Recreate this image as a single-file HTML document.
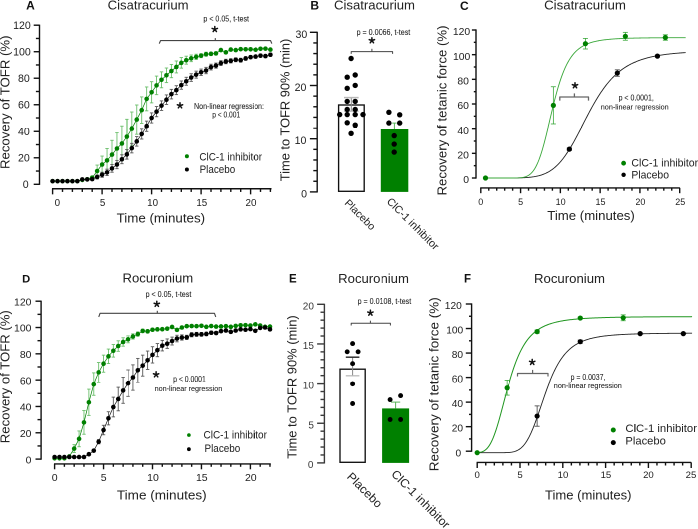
<!DOCTYPE html>
<html><head><meta charset="utf-8"><style>
html,body{margin:0;padding:0;background:#fff;}
#wrap{width:698px;height:529px;overflow:hidden;position:relative;background:#fff;}
svg{display:block;position:absolute;left:0;top:0;font-family:"Liberation Sans", sans-serif;transform:scale(0.5);transform-origin:0 0;will-change:transform;}
</style></head><body>
<div id="wrap">
<svg width="1396" height="1058" viewBox="0 0 698 529">
<rect width="698" height="529" fill="#fff"/>
<text x="26.1" y="9.6" font-size="12" text-anchor="start" fill="#111" font-weight="bold">A</text>
<text x="107.6" y="9.7" font-size="13" text-anchor="start" fill="#222" textLength="81" lengthAdjust="spacingAndGlyphs">Cisatracurium</text>
<line x1="39.5" y1="184.9" x2="39.5" y2="24.6" stroke="#111" stroke-width="1.4"/>
<line x1="33.7" y1="184.3" x2="39.5" y2="184.3" stroke="#111" stroke-width="1.4"/>
<text x="28.6" y="188.15" font-size="10.6" text-anchor="end" fill="#222">0</text>
<line x1="35.9" y1="171.04" x2="39.5" y2="171.04" stroke="#111" stroke-width="1.4"/>
<line x1="33.7" y1="157.78" x2="39.5" y2="157.78" stroke="#111" stroke-width="1.4"/>
<text x="29.8" y="161.63" font-size="10.6" text-anchor="end" fill="#222">20</text>
<line x1="35.9" y1="144.53" x2="39.5" y2="144.53" stroke="#111" stroke-width="1.4"/>
<line x1="33.7" y1="131.27" x2="39.5" y2="131.27" stroke="#111" stroke-width="1.4"/>
<text x="29.8" y="135.12" font-size="10.6" text-anchor="end" fill="#222">40</text>
<line x1="35.9" y1="118.01" x2="39.5" y2="118.01" stroke="#111" stroke-width="1.4"/>
<line x1="33.7" y1="104.75" x2="39.5" y2="104.75" stroke="#111" stroke-width="1.4"/>
<text x="29.8" y="108.6" font-size="10.6" text-anchor="end" fill="#222">60</text>
<line x1="35.9" y1="91.49" x2="39.5" y2="91.49" stroke="#111" stroke-width="1.4"/>
<line x1="33.7" y1="78.23" x2="39.5" y2="78.23" stroke="#111" stroke-width="1.4"/>
<text x="29.8" y="82.08" font-size="10.6" text-anchor="end" fill="#222">80</text>
<line x1="35.9" y1="64.97" x2="39.5" y2="64.97" stroke="#111" stroke-width="1.4"/>
<line x1="33.7" y1="51.72" x2="39.5" y2="51.72" stroke="#111" stroke-width="1.4"/>
<text x="30.8" y="55.57" font-size="10.6" text-anchor="end" fill="#222">100</text>
<line x1="35.9" y1="38.46" x2="39.5" y2="38.46" stroke="#111" stroke-width="1.4"/>
<line x1="33.7" y1="25.2" x2="39.5" y2="25.2" stroke="#111" stroke-width="1.4"/>
<text x="30.8" y="29.05" font-size="10.6" text-anchor="end" fill="#222">120</text>
<text x="9.5" y="169" font-size="13" text-anchor="start" fill="#222" textLength="133.5" lengthAdjust="spacingAndGlyphs" transform="rotate(-90 9.5 169)">Recovery of TOFR (%)</text>
<line x1="52" y1="188.75" x2="271.5" y2="188.75" stroke="#111" stroke-width="1.4"/>
<line x1="52.6" y1="188.75" x2="52.6" y2="194.35" stroke="#111" stroke-width="1.4"/>
<line x1="62.5" y1="188.75" x2="62.5" y2="191.95" stroke="#111" stroke-width="1.4"/>
<line x1="72.4" y1="188.75" x2="72.4" y2="191.95" stroke="#111" stroke-width="1.4"/>
<line x1="82.3" y1="188.75" x2="82.3" y2="191.95" stroke="#111" stroke-width="1.4"/>
<line x1="92.2" y1="188.75" x2="92.2" y2="191.95" stroke="#111" stroke-width="1.4"/>
<line x1="102.1" y1="188.75" x2="102.1" y2="194.35" stroke="#111" stroke-width="1.4"/>
<line x1="112" y1="188.75" x2="112" y2="191.95" stroke="#111" stroke-width="1.4"/>
<line x1="121.9" y1="188.75" x2="121.9" y2="191.95" stroke="#111" stroke-width="1.4"/>
<line x1="131.8" y1="188.75" x2="131.8" y2="191.95" stroke="#111" stroke-width="1.4"/>
<line x1="141.7" y1="188.75" x2="141.7" y2="191.95" stroke="#111" stroke-width="1.4"/>
<line x1="151.6" y1="188.75" x2="151.6" y2="194.35" stroke="#111" stroke-width="1.4"/>
<line x1="161.5" y1="188.75" x2="161.5" y2="191.95" stroke="#111" stroke-width="1.4"/>
<line x1="171.4" y1="188.75" x2="171.4" y2="191.95" stroke="#111" stroke-width="1.4"/>
<line x1="181.3" y1="188.75" x2="181.3" y2="191.95" stroke="#111" stroke-width="1.4"/>
<line x1="191.2" y1="188.75" x2="191.2" y2="191.95" stroke="#111" stroke-width="1.4"/>
<line x1="201.1" y1="188.75" x2="201.1" y2="194.35" stroke="#111" stroke-width="1.4"/>
<line x1="211" y1="188.75" x2="211" y2="191.95" stroke="#111" stroke-width="1.4"/>
<line x1="220.9" y1="188.75" x2="220.9" y2="191.95" stroke="#111" stroke-width="1.4"/>
<line x1="230.8" y1="188.75" x2="230.8" y2="191.95" stroke="#111" stroke-width="1.4"/>
<line x1="240.7" y1="188.75" x2="240.7" y2="191.95" stroke="#111" stroke-width="1.4"/>
<line x1="250.6" y1="188.75" x2="250.6" y2="194.35" stroke="#111" stroke-width="1.4"/>
<line x1="260.5" y1="188.75" x2="260.5" y2="191.95" stroke="#111" stroke-width="1.4"/>
<line x1="270.4" y1="188.75" x2="270.4" y2="191.95" stroke="#111" stroke-width="1.4"/>
<text x="57.4" y="206.1" font-size="9.8" text-anchor="middle" fill="#222">0</text>
<text x="102.6" y="206.1" font-size="9.8" text-anchor="middle" fill="#222">5</text>
<text x="152.6" y="206.1" font-size="9.8" text-anchor="middle" fill="#222">10</text>
<text x="201.8" y="206.1" font-size="9.8" text-anchor="middle" fill="#222">15</text>
<text x="251" y="206.1" font-size="9.8" text-anchor="middle" fill="#222">20</text>
<text x="116.6" y="222.7" font-size="13" text-anchor="start" fill="#222" textLength="88.5" lengthAdjust="spacingAndGlyphs">Time (minutes)</text>
<line x1="87.25" y1="178.2" x2="87.25" y2="180.32" stroke="#6cbf6c" stroke-width="0.9"/>
<line x1="85.55" y1="178.2" x2="88.95" y2="178.2" stroke="#6cbf6c" stroke-width="0.9"/>
<line x1="85.55" y1="180.32" x2="88.95" y2="180.32" stroke="#6cbf6c" stroke-width="0.9"/>
<line x1="92.2" y1="176.08" x2="92.2" y2="179.26" stroke="#6cbf6c" stroke-width="0.9"/>
<line x1="90.5" y1="176.08" x2="93.9" y2="176.08" stroke="#6cbf6c" stroke-width="0.9"/>
<line x1="90.5" y1="179.26" x2="93.9" y2="179.26" stroke="#6cbf6c" stroke-width="0.9"/>
<line x1="97.15" y1="165.07" x2="97.15" y2="177.01" stroke="#6cbf6c" stroke-width="0.9"/>
<line x1="95.45" y1="165.07" x2="98.85" y2="165.07" stroke="#6cbf6c" stroke-width="0.9"/>
<line x1="95.45" y1="177.01" x2="98.85" y2="177.01" stroke="#6cbf6c" stroke-width="0.9"/>
<line x1="102.1" y1="156.06" x2="102.1" y2="173.03" stroke="#6cbf6c" stroke-width="0.9"/>
<line x1="100.4" y1="156.06" x2="103.8" y2="156.06" stroke="#6cbf6c" stroke-width="0.9"/>
<line x1="100.4" y1="173.03" x2="103.8" y2="173.03" stroke="#6cbf6c" stroke-width="0.9"/>
<line x1="107.05" y1="148.5" x2="107.05" y2="172.37" stroke="#6cbf6c" stroke-width="0.9"/>
<line x1="105.35" y1="148.5" x2="108.75" y2="148.5" stroke="#6cbf6c" stroke-width="0.9"/>
<line x1="105.35" y1="172.37" x2="108.75" y2="172.37" stroke="#6cbf6c" stroke-width="0.9"/>
<line x1="112" y1="140.28" x2="112" y2="168.92" stroke="#6cbf6c" stroke-width="0.9"/>
<line x1="110.3" y1="140.28" x2="113.7" y2="140.28" stroke="#6cbf6c" stroke-width="0.9"/>
<line x1="110.3" y1="168.92" x2="113.7" y2="168.92" stroke="#6cbf6c" stroke-width="0.9"/>
<line x1="116.95" y1="132.59" x2="116.95" y2="164.41" stroke="#6cbf6c" stroke-width="0.9"/>
<line x1="115.25" y1="132.59" x2="118.65" y2="132.59" stroke="#6cbf6c" stroke-width="0.9"/>
<line x1="115.25" y1="164.41" x2="118.65" y2="164.41" stroke="#6cbf6c" stroke-width="0.9"/>
<line x1="121.9" y1="126.22" x2="121.9" y2="160.7" stroke="#6cbf6c" stroke-width="0.9"/>
<line x1="120.2" y1="126.22" x2="123.6" y2="126.22" stroke="#6cbf6c" stroke-width="0.9"/>
<line x1="120.2" y1="160.7" x2="123.6" y2="160.7" stroke="#6cbf6c" stroke-width="0.9"/>
<line x1="126.85" y1="119.33" x2="126.85" y2="153.8" stroke="#6cbf6c" stroke-width="0.9"/>
<line x1="125.15" y1="119.33" x2="128.55" y2="119.33" stroke="#6cbf6c" stroke-width="0.9"/>
<line x1="125.15" y1="153.8" x2="128.55" y2="153.8" stroke="#6cbf6c" stroke-width="0.9"/>
<line x1="131.8" y1="112.03" x2="131.8" y2="145.18" stroke="#6cbf6c" stroke-width="0.9"/>
<line x1="130.1" y1="112.03" x2="133.5" y2="112.03" stroke="#6cbf6c" stroke-width="0.9"/>
<line x1="130.1" y1="145.18" x2="133.5" y2="145.18" stroke="#6cbf6c" stroke-width="0.9"/>
<line x1="136.75" y1="105.01" x2="136.75" y2="134.18" stroke="#6cbf6c" stroke-width="0.9"/>
<line x1="135.05" y1="105.01" x2="138.45" y2="105.01" stroke="#6cbf6c" stroke-width="0.9"/>
<line x1="135.05" y1="134.18" x2="138.45" y2="134.18" stroke="#6cbf6c" stroke-width="0.9"/>
<line x1="141.7" y1="96.92" x2="141.7" y2="123.44" stroke="#6cbf6c" stroke-width="0.9"/>
<line x1="140" y1="96.92" x2="143.4" y2="96.92" stroke="#6cbf6c" stroke-width="0.9"/>
<line x1="140" y1="123.44" x2="143.4" y2="123.44" stroke="#6cbf6c" stroke-width="0.9"/>
<line x1="146.65" y1="86.97" x2="146.65" y2="110.84" stroke="#6cbf6c" stroke-width="0.9"/>
<line x1="144.95" y1="86.97" x2="148.35" y2="86.97" stroke="#6cbf6c" stroke-width="0.9"/>
<line x1="144.95" y1="110.84" x2="148.35" y2="110.84" stroke="#6cbf6c" stroke-width="0.9"/>
<line x1="151.6" y1="81.67" x2="151.6" y2="102.88" stroke="#6cbf6c" stroke-width="0.9"/>
<line x1="149.9" y1="81.67" x2="153.3" y2="81.67" stroke="#6cbf6c" stroke-width="0.9"/>
<line x1="149.9" y1="102.88" x2="153.3" y2="102.88" stroke="#6cbf6c" stroke-width="0.9"/>
<line x1="156.55" y1="76.1" x2="156.55" y2="94.66" stroke="#6cbf6c" stroke-width="0.9"/>
<line x1="154.85" y1="76.1" x2="158.25" y2="76.1" stroke="#6cbf6c" stroke-width="0.9"/>
<line x1="154.85" y1="94.66" x2="158.25" y2="94.66" stroke="#6cbf6c" stroke-width="0.9"/>
<line x1="161.5" y1="71.86" x2="161.5" y2="87.77" stroke="#6cbf6c" stroke-width="0.9"/>
<line x1="159.8" y1="71.86" x2="163.2" y2="71.86" stroke="#6cbf6c" stroke-width="0.9"/>
<line x1="159.8" y1="87.77" x2="163.2" y2="87.77" stroke="#6cbf6c" stroke-width="0.9"/>
<line x1="166.45" y1="68.01" x2="166.45" y2="82.6" stroke="#6cbf6c" stroke-width="0.9"/>
<line x1="164.75" y1="68.01" x2="168.15" y2="68.01" stroke="#6cbf6c" stroke-width="0.9"/>
<line x1="164.75" y1="82.6" x2="168.15" y2="82.6" stroke="#6cbf6c" stroke-width="0.9"/>
<line x1="171.4" y1="64.43" x2="171.4" y2="77.69" stroke="#6cbf6c" stroke-width="0.9"/>
<line x1="169.7" y1="64.43" x2="173.1" y2="64.43" stroke="#6cbf6c" stroke-width="0.9"/>
<line x1="169.7" y1="77.69" x2="173.1" y2="77.69" stroke="#6cbf6c" stroke-width="0.9"/>
<line x1="176.35" y1="60.98" x2="176.35" y2="72.92" stroke="#6cbf6c" stroke-width="0.9"/>
<line x1="174.65" y1="60.98" x2="178.05" y2="60.98" stroke="#6cbf6c" stroke-width="0.9"/>
<line x1="174.65" y1="72.92" x2="178.05" y2="72.92" stroke="#6cbf6c" stroke-width="0.9"/>
<line x1="181.3" y1="57.53" x2="181.3" y2="68.14" stroke="#6cbf6c" stroke-width="0.9"/>
<line x1="179.6" y1="57.53" x2="183" y2="57.53" stroke="#6cbf6c" stroke-width="0.9"/>
<line x1="179.6" y1="68.14" x2="183" y2="68.14" stroke="#6cbf6c" stroke-width="0.9"/>
<line x1="186.25" y1="56.21" x2="186.25" y2="64.16" stroke="#6cbf6c" stroke-width="0.9"/>
<line x1="184.55" y1="56.21" x2="187.95" y2="56.21" stroke="#6cbf6c" stroke-width="0.9"/>
<line x1="184.55" y1="64.16" x2="187.95" y2="64.16" stroke="#6cbf6c" stroke-width="0.9"/>
<line x1="191.2" y1="55.02" x2="191.2" y2="61.65" stroke="#6cbf6c" stroke-width="0.9"/>
<line x1="189.5" y1="55.02" x2="192.9" y2="55.02" stroke="#6cbf6c" stroke-width="0.9"/>
<line x1="189.5" y1="61.65" x2="192.9" y2="61.65" stroke="#6cbf6c" stroke-width="0.9"/>
<line x1="196.15" y1="54.22" x2="196.15" y2="59.52" stroke="#6cbf6c" stroke-width="0.9"/>
<line x1="194.45" y1="54.22" x2="197.85" y2="54.22" stroke="#6cbf6c" stroke-width="0.9"/>
<line x1="194.45" y1="59.52" x2="197.85" y2="59.52" stroke="#6cbf6c" stroke-width="0.9"/>
<line x1="201.1" y1="53.69" x2="201.1" y2="57.67" stroke="#6cbf6c" stroke-width="0.9"/>
<line x1="199.4" y1="53.69" x2="202.8" y2="53.69" stroke="#6cbf6c" stroke-width="0.9"/>
<line x1="199.4" y1="57.67" x2="202.8" y2="57.67" stroke="#6cbf6c" stroke-width="0.9"/>
<line x1="206.05" y1="52.23" x2="206.05" y2="56.21" stroke="#6cbf6c" stroke-width="0.9"/>
<line x1="204.35" y1="52.23" x2="207.75" y2="52.23" stroke="#6cbf6c" stroke-width="0.9"/>
<line x1="204.35" y1="56.21" x2="207.75" y2="56.21" stroke="#6cbf6c" stroke-width="0.9"/>
<line x1="211" y1="52.23" x2="211" y2="55.41" stroke="#6cbf6c" stroke-width="0.9"/>
<line x1="209.3" y1="52.23" x2="212.7" y2="52.23" stroke="#6cbf6c" stroke-width="0.9"/>
<line x1="209.3" y1="55.41" x2="212.7" y2="55.41" stroke="#6cbf6c" stroke-width="0.9"/>
<line x1="215.95" y1="51.83" x2="215.95" y2="55.02" stroke="#6cbf6c" stroke-width="0.9"/>
<line x1="214.25" y1="51.83" x2="217.65" y2="51.83" stroke="#6cbf6c" stroke-width="0.9"/>
<line x1="214.25" y1="55.02" x2="217.65" y2="55.02" stroke="#6cbf6c" stroke-width="0.9"/>
<line x1="220.9" y1="48.78" x2="220.9" y2="51.43" stroke="#6cbf6c" stroke-width="0.9"/>
<line x1="219.2" y1="48.78" x2="222.6" y2="48.78" stroke="#6cbf6c" stroke-width="0.9"/>
<line x1="219.2" y1="51.43" x2="222.6" y2="51.43" stroke="#6cbf6c" stroke-width="0.9"/>
<line x1="225.85" y1="51.04" x2="225.85" y2="53.69" stroke="#6cbf6c" stroke-width="0.9"/>
<line x1="224.15" y1="51.04" x2="227.55" y2="51.04" stroke="#6cbf6c" stroke-width="0.9"/>
<line x1="224.15" y1="53.69" x2="227.55" y2="53.69" stroke="#6cbf6c" stroke-width="0.9"/>
<line x1="230.8" y1="48.25" x2="230.8" y2="50.9" stroke="#6cbf6c" stroke-width="0.9"/>
<line x1="229.1" y1="48.25" x2="232.5" y2="48.25" stroke="#6cbf6c" stroke-width="0.9"/>
<line x1="229.1" y1="50.9" x2="232.5" y2="50.9" stroke="#6cbf6c" stroke-width="0.9"/>
<line x1="235.75" y1="48.78" x2="235.75" y2="51.43" stroke="#6cbf6c" stroke-width="0.9"/>
<line x1="234.05" y1="48.78" x2="237.45" y2="48.78" stroke="#6cbf6c" stroke-width="0.9"/>
<line x1="234.05" y1="51.43" x2="237.45" y2="51.43" stroke="#6cbf6c" stroke-width="0.9"/>
<line x1="240.7" y1="47.85" x2="240.7" y2="50.51" stroke="#6cbf6c" stroke-width="0.9"/>
<line x1="239" y1="47.85" x2="242.4" y2="47.85" stroke="#6cbf6c" stroke-width="0.9"/>
<line x1="239" y1="50.51" x2="242.4" y2="50.51" stroke="#6cbf6c" stroke-width="0.9"/>
<line x1="245.65" y1="48.25" x2="245.65" y2="50.37" stroke="#6cbf6c" stroke-width="0.9"/>
<line x1="243.95" y1="48.25" x2="247.35" y2="48.25" stroke="#6cbf6c" stroke-width="0.9"/>
<line x1="243.95" y1="50.37" x2="247.35" y2="50.37" stroke="#6cbf6c" stroke-width="0.9"/>
<line x1="250.6" y1="48.25" x2="250.6" y2="50.37" stroke="#6cbf6c" stroke-width="0.9"/>
<line x1="248.9" y1="48.25" x2="252.3" y2="48.25" stroke="#6cbf6c" stroke-width="0.9"/>
<line x1="248.9" y1="50.37" x2="252.3" y2="50.37" stroke="#6cbf6c" stroke-width="0.9"/>
<line x1="255.55" y1="48.65" x2="255.55" y2="50.77" stroke="#6cbf6c" stroke-width="0.9"/>
<line x1="253.85" y1="48.65" x2="257.25" y2="48.65" stroke="#6cbf6c" stroke-width="0.9"/>
<line x1="253.85" y1="50.77" x2="257.25" y2="50.77" stroke="#6cbf6c" stroke-width="0.9"/>
<line x1="260.5" y1="47.72" x2="260.5" y2="49.84" stroke="#6cbf6c" stroke-width="0.9"/>
<line x1="258.8" y1="47.72" x2="262.2" y2="47.72" stroke="#6cbf6c" stroke-width="0.9"/>
<line x1="258.8" y1="49.84" x2="262.2" y2="49.84" stroke="#6cbf6c" stroke-width="0.9"/>
<line x1="265.45" y1="47.59" x2="265.45" y2="49.71" stroke="#6cbf6c" stroke-width="0.9"/>
<line x1="263.75" y1="47.59" x2="267.15" y2="47.59" stroke="#6cbf6c" stroke-width="0.9"/>
<line x1="263.75" y1="49.71" x2="267.15" y2="49.71" stroke="#6cbf6c" stroke-width="0.9"/>
<line x1="270.4" y1="48.52" x2="270.4" y2="50.64" stroke="#6cbf6c" stroke-width="0.9"/>
<line x1="268.7" y1="48.52" x2="272.1" y2="48.52" stroke="#6cbf6c" stroke-width="0.9"/>
<line x1="268.7" y1="50.64" x2="272.1" y2="50.64" stroke="#6cbf6c" stroke-width="0.9"/>
<line x1="92.2" y1="177.86" x2="92.2" y2="180.4" stroke="#595959" stroke-width="0.9"/>
<line x1="90.5" y1="177.86" x2="93.9" y2="177.86" stroke="#595959" stroke-width="0.9"/>
<line x1="90.5" y1="180.4" x2="93.9" y2="180.4" stroke="#595959" stroke-width="0.9"/>
<line x1="97.15" y1="175.1" x2="97.15" y2="178.92" stroke="#595959" stroke-width="0.9"/>
<line x1="95.45" y1="175.1" x2="98.85" y2="175.1" stroke="#595959" stroke-width="0.9"/>
<line x1="95.45" y1="178.92" x2="98.85" y2="178.92" stroke="#595959" stroke-width="0.9"/>
<line x1="102.1" y1="172.21" x2="102.1" y2="177.3" stroke="#595959" stroke-width="0.9"/>
<line x1="100.4" y1="172.21" x2="103.8" y2="172.21" stroke="#595959" stroke-width="0.9"/>
<line x1="100.4" y1="177.3" x2="103.8" y2="177.3" stroke="#595959" stroke-width="0.9"/>
<line x1="107.05" y1="169.18" x2="107.05" y2="175.55" stroke="#595959" stroke-width="0.9"/>
<line x1="105.35" y1="169.18" x2="108.75" y2="169.18" stroke="#595959" stroke-width="0.9"/>
<line x1="105.35" y1="175.55" x2="108.75" y2="175.55" stroke="#595959" stroke-width="0.9"/>
<line x1="112" y1="164.57" x2="112" y2="172.21" stroke="#595959" stroke-width="0.9"/>
<line x1="110.3" y1="164.57" x2="113.7" y2="164.57" stroke="#595959" stroke-width="0.9"/>
<line x1="110.3" y1="172.21" x2="113.7" y2="172.21" stroke="#595959" stroke-width="0.9"/>
<line x1="116.95" y1="160.41" x2="116.95" y2="168.68" stroke="#595959" stroke-width="0.9"/>
<line x1="115.25" y1="160.41" x2="118.65" y2="160.41" stroke="#595959" stroke-width="0.9"/>
<line x1="115.25" y1="168.68" x2="118.65" y2="168.68" stroke="#595959" stroke-width="0.9"/>
<line x1="121.9" y1="154.78" x2="121.9" y2="163.69" stroke="#595959" stroke-width="0.9"/>
<line x1="120.2" y1="154.78" x2="123.6" y2="154.78" stroke="#595959" stroke-width="0.9"/>
<line x1="120.2" y1="163.69" x2="123.6" y2="163.69" stroke="#595959" stroke-width="0.9"/>
<line x1="126.85" y1="149.56" x2="126.85" y2="159.11" stroke="#595959" stroke-width="0.9"/>
<line x1="125.15" y1="149.56" x2="128.55" y2="149.56" stroke="#595959" stroke-width="0.9"/>
<line x1="125.15" y1="159.11" x2="128.55" y2="159.11" stroke="#595959" stroke-width="0.9"/>
<line x1="131.8" y1="143.33" x2="131.8" y2="152.87" stroke="#595959" stroke-width="0.9"/>
<line x1="130.1" y1="143.33" x2="133.5" y2="143.33" stroke="#595959" stroke-width="0.9"/>
<line x1="130.1" y1="152.87" x2="133.5" y2="152.87" stroke="#595959" stroke-width="0.9"/>
<line x1="136.75" y1="136.56" x2="136.75" y2="146.11" stroke="#595959" stroke-width="0.9"/>
<line x1="135.05" y1="136.56" x2="138.45" y2="136.56" stroke="#595959" stroke-width="0.9"/>
<line x1="135.05" y1="146.11" x2="138.45" y2="146.11" stroke="#595959" stroke-width="0.9"/>
<line x1="141.7" y1="128.82" x2="141.7" y2="139" stroke="#595959" stroke-width="0.9"/>
<line x1="140" y1="128.82" x2="143.4" y2="128.82" stroke="#595959" stroke-width="0.9"/>
<line x1="140" y1="139" x2="143.4" y2="139" stroke="#595959" stroke-width="0.9"/>
<line x1="146.65" y1="121.13" x2="146.65" y2="131.31" stroke="#595959" stroke-width="0.9"/>
<line x1="144.95" y1="121.13" x2="148.35" y2="121.13" stroke="#595959" stroke-width="0.9"/>
<line x1="144.95" y1="131.31" x2="148.35" y2="131.31" stroke="#595959" stroke-width="0.9"/>
<line x1="151.6" y1="112.91" x2="151.6" y2="123.09" stroke="#595959" stroke-width="0.9"/>
<line x1="149.9" y1="112.91" x2="153.3" y2="112.91" stroke="#595959" stroke-width="0.9"/>
<line x1="149.9" y1="123.09" x2="153.3" y2="123.09" stroke="#595959" stroke-width="0.9"/>
<line x1="156.55" y1="106.54" x2="156.55" y2="116.73" stroke="#595959" stroke-width="0.9"/>
<line x1="154.85" y1="106.54" x2="158.25" y2="106.54" stroke="#595959" stroke-width="0.9"/>
<line x1="154.85" y1="116.73" x2="158.25" y2="116.73" stroke="#595959" stroke-width="0.9"/>
<line x1="161.5" y1="100.89" x2="161.5" y2="110.44" stroke="#595959" stroke-width="0.9"/>
<line x1="159.8" y1="100.89" x2="163.2" y2="100.89" stroke="#595959" stroke-width="0.9"/>
<line x1="159.8" y1="110.44" x2="163.2" y2="110.44" stroke="#595959" stroke-width="0.9"/>
<line x1="166.45" y1="94.93" x2="166.45" y2="104.47" stroke="#595959" stroke-width="0.9"/>
<line x1="164.75" y1="94.93" x2="168.15" y2="94.93" stroke="#595959" stroke-width="0.9"/>
<line x1="164.75" y1="104.47" x2="168.15" y2="104.47" stroke="#595959" stroke-width="0.9"/>
<line x1="171.4" y1="89.36" x2="171.4" y2="98.91" stroke="#595959" stroke-width="0.9"/>
<line x1="169.7" y1="89.36" x2="173.1" y2="89.36" stroke="#595959" stroke-width="0.9"/>
<line x1="169.7" y1="98.91" x2="173.1" y2="98.91" stroke="#595959" stroke-width="0.9"/>
<line x1="176.35" y1="85.7" x2="176.35" y2="94.61" stroke="#595959" stroke-width="0.9"/>
<line x1="174.65" y1="85.7" x2="178.05" y2="85.7" stroke="#595959" stroke-width="0.9"/>
<line x1="174.65" y1="94.61" x2="178.05" y2="94.61" stroke="#595959" stroke-width="0.9"/>
<line x1="181.3" y1="80.98" x2="181.3" y2="89.25" stroke="#595959" stroke-width="0.9"/>
<line x1="179.6" y1="80.98" x2="183" y2="80.98" stroke="#595959" stroke-width="0.9"/>
<line x1="179.6" y1="89.25" x2="183" y2="89.25" stroke="#595959" stroke-width="0.9"/>
<line x1="186.25" y1="77.29" x2="186.25" y2="85.25" stroke="#595959" stroke-width="0.9"/>
<line x1="184.55" y1="77.29" x2="187.95" y2="77.29" stroke="#595959" stroke-width="0.9"/>
<line x1="184.55" y1="85.25" x2="187.95" y2="85.25" stroke="#595959" stroke-width="0.9"/>
<line x1="191.2" y1="73.74" x2="191.2" y2="81.38" stroke="#595959" stroke-width="0.9"/>
<line x1="189.5" y1="73.74" x2="192.9" y2="73.74" stroke="#595959" stroke-width="0.9"/>
<line x1="189.5" y1="81.38" x2="192.9" y2="81.38" stroke="#595959" stroke-width="0.9"/>
<line x1="196.15" y1="71.14" x2="196.15" y2="78.14" stroke="#595959" stroke-width="0.9"/>
<line x1="194.45" y1="71.14" x2="197.85" y2="71.14" stroke="#595959" stroke-width="0.9"/>
<line x1="194.45" y1="78.14" x2="197.85" y2="78.14" stroke="#595959" stroke-width="0.9"/>
<line x1="201.1" y1="69.07" x2="201.1" y2="75.44" stroke="#595959" stroke-width="0.9"/>
<line x1="199.4" y1="69.07" x2="202.8" y2="69.07" stroke="#595959" stroke-width="0.9"/>
<line x1="199.4" y1="75.44" x2="202.8" y2="75.44" stroke="#595959" stroke-width="0.9"/>
<line x1="206.05" y1="67.35" x2="206.05" y2="73.71" stroke="#595959" stroke-width="0.9"/>
<line x1="204.35" y1="67.35" x2="207.75" y2="67.35" stroke="#595959" stroke-width="0.9"/>
<line x1="204.35" y1="73.71" x2="207.75" y2="73.71" stroke="#595959" stroke-width="0.9"/>
<line x1="211" y1="64.22" x2="211" y2="69.95" stroke="#595959" stroke-width="0.9"/>
<line x1="209.3" y1="64.22" x2="212.7" y2="64.22" stroke="#595959" stroke-width="0.9"/>
<line x1="209.3" y1="69.95" x2="212.7" y2="69.95" stroke="#595959" stroke-width="0.9"/>
<line x1="215.95" y1="63.08" x2="215.95" y2="68.17" stroke="#595959" stroke-width="0.9"/>
<line x1="214.25" y1="63.08" x2="217.65" y2="63.08" stroke="#595959" stroke-width="0.9"/>
<line x1="214.25" y1="68.17" x2="217.65" y2="68.17" stroke="#595959" stroke-width="0.9"/>
<line x1="220.9" y1="60.72" x2="220.9" y2="65.49" stroke="#595959" stroke-width="0.9"/>
<line x1="219.2" y1="60.72" x2="222.6" y2="60.72" stroke="#595959" stroke-width="0.9"/>
<line x1="219.2" y1="65.49" x2="222.6" y2="65.49" stroke="#595959" stroke-width="0.9"/>
<line x1="225.85" y1="59.28" x2="225.85" y2="63.74" stroke="#595959" stroke-width="0.9"/>
<line x1="224.15" y1="59.28" x2="227.55" y2="59.28" stroke="#595959" stroke-width="0.9"/>
<line x1="224.15" y1="63.74" x2="227.55" y2="63.74" stroke="#595959" stroke-width="0.9"/>
<line x1="230.8" y1="58.78" x2="230.8" y2="62.92" stroke="#595959" stroke-width="0.9"/>
<line x1="229.1" y1="58.78" x2="232.5" y2="58.78" stroke="#595959" stroke-width="0.9"/>
<line x1="229.1" y1="62.92" x2="232.5" y2="62.92" stroke="#595959" stroke-width="0.9"/>
<line x1="235.75" y1="57.88" x2="235.75" y2="61.7" stroke="#595959" stroke-width="0.9"/>
<line x1="234.05" y1="57.88" x2="237.45" y2="57.88" stroke="#595959" stroke-width="0.9"/>
<line x1="234.05" y1="61.7" x2="237.45" y2="61.7" stroke="#595959" stroke-width="0.9"/>
<line x1="240.7" y1="58.28" x2="240.7" y2="62.1" stroke="#595959" stroke-width="0.9"/>
<line x1="239" y1="58.28" x2="242.4" y2="58.28" stroke="#595959" stroke-width="0.9"/>
<line x1="239" y1="62.1" x2="242.4" y2="62.1" stroke="#595959" stroke-width="0.9"/>
<line x1="245.65" y1="56.71" x2="245.65" y2="60.21" stroke="#595959" stroke-width="0.9"/>
<line x1="243.95" y1="56.71" x2="247.35" y2="56.71" stroke="#595959" stroke-width="0.9"/>
<line x1="243.95" y1="60.21" x2="247.35" y2="60.21" stroke="#595959" stroke-width="0.9"/>
<line x1="250.6" y1="55.55" x2="250.6" y2="58.73" stroke="#595959" stroke-width="0.9"/>
<line x1="248.9" y1="55.55" x2="252.3" y2="55.55" stroke="#595959" stroke-width="0.9"/>
<line x1="248.9" y1="58.73" x2="252.3" y2="58.73" stroke="#595959" stroke-width="0.9"/>
<line x1="255.55" y1="55.02" x2="255.55" y2="58.2" stroke="#595959" stroke-width="0.9"/>
<line x1="253.85" y1="55.02" x2="257.25" y2="55.02" stroke="#595959" stroke-width="0.9"/>
<line x1="253.85" y1="58.2" x2="257.25" y2="58.2" stroke="#595959" stroke-width="0.9"/>
<line x1="260.5" y1="54.09" x2="260.5" y2="57.27" stroke="#595959" stroke-width="0.9"/>
<line x1="258.8" y1="54.09" x2="262.2" y2="54.09" stroke="#595959" stroke-width="0.9"/>
<line x1="258.8" y1="57.27" x2="262.2" y2="57.27" stroke="#595959" stroke-width="0.9"/>
<line x1="265.45" y1="54.48" x2="265.45" y2="57.67" stroke="#595959" stroke-width="0.9"/>
<line x1="263.75" y1="54.48" x2="267.15" y2="54.48" stroke="#595959" stroke-width="0.9"/>
<line x1="263.75" y1="57.67" x2="267.15" y2="57.67" stroke="#595959" stroke-width="0.9"/>
<line x1="270.4" y1="53.16" x2="270.4" y2="56.34" stroke="#595959" stroke-width="0.9"/>
<line x1="268.7" y1="53.16" x2="272.1" y2="53.16" stroke="#595959" stroke-width="0.9"/>
<line x1="268.7" y1="56.34" x2="272.1" y2="56.34" stroke="#595959" stroke-width="0.9"/>
<polyline points="52.6,181.12 57.55,181.12 62.5,181.12 67.45,181.12 72.4,181.12 77.35,181.12 82.3,179.92 87.25,179.26 92.2,177.67 97.15,171.04 102.1,164.54 107.05,160.43 112,154.6 116.95,148.5 121.9,143.46 126.85,136.56 131.8,128.61 136.75,119.59 141.7,110.18 146.65,98.91 151.6,92.28 156.55,85.38 161.5,79.81 166.45,75.3 171.4,71.06 176.35,66.95 181.3,62.84 186.25,60.19 191.2,58.33 196.15,56.87 201.1,55.68 206.05,54.22 211,53.82 215.95,53.42 220.9,50.11 225.85,52.36 230.8,49.58 235.75,50.11 240.7,49.18 245.65,49.31 250.6,49.31 255.55,49.71 260.5,48.78 265.45,48.65 270.4,49.58" fill="none" stroke="#008000" stroke-width="0.7"/>
<polyline points="52.6,181.12 57.55,181.12 62.5,181.12 67.45,181.12 72.4,181.12 77.35,181.12 82.3,179.39 87.25,179.39 92.2,179.13 97.15,177.01 102.1,174.75 107.05,172.37 112,168.39 116.95,164.54 121.9,159.24 126.85,154.33 131.8,148.1 136.75,141.34 141.7,133.91 146.65,126.22 151.6,118 156.55,111.64 161.5,105.67 166.45,99.7 171.4,94.13 176.35,90.15 181.3,85.12 186.25,81.27 191.2,77.56 196.15,74.64 201.1,72.25 206.05,70.53 211,67.08 215.95,65.62 220.9,63.1 225.85,61.51 230.8,60.85 235.75,59.79 240.7,60.19 245.65,58.46 250.6,57.14 255.55,56.61 260.5,55.68 265.45,56.08 270.4,54.75" fill="none" stroke="#111" stroke-width="0.7"/>
<circle cx="52.6" cy="181.12" r="2.3" fill="#008000"/>
<circle cx="57.55" cy="181.12" r="2.3" fill="#008000"/>
<circle cx="62.5" cy="181.12" r="2.3" fill="#008000"/>
<circle cx="67.45" cy="181.12" r="2.3" fill="#008000"/>
<circle cx="72.4" cy="181.12" r="2.3" fill="#008000"/>
<circle cx="77.35" cy="181.12" r="2.3" fill="#008000"/>
<circle cx="82.3" cy="179.92" r="2.3" fill="#008000"/>
<circle cx="87.25" cy="179.26" r="2.3" fill="#008000"/>
<circle cx="92.2" cy="177.67" r="2.3" fill="#008000"/>
<circle cx="97.15" cy="171.04" r="2.3" fill="#008000"/>
<circle cx="102.1" cy="164.54" r="2.3" fill="#008000"/>
<circle cx="107.05" cy="160.43" r="2.3" fill="#008000"/>
<circle cx="112" cy="154.6" r="2.3" fill="#008000"/>
<circle cx="116.95" cy="148.5" r="2.3" fill="#008000"/>
<circle cx="121.9" cy="143.46" r="2.3" fill="#008000"/>
<circle cx="126.85" cy="136.56" r="2.3" fill="#008000"/>
<circle cx="131.8" cy="128.61" r="2.3" fill="#008000"/>
<circle cx="136.75" cy="119.59" r="2.3" fill="#008000"/>
<circle cx="141.7" cy="110.18" r="2.3" fill="#008000"/>
<circle cx="146.65" cy="98.91" r="2.3" fill="#008000"/>
<circle cx="151.6" cy="92.28" r="2.3" fill="#008000"/>
<circle cx="156.55" cy="85.38" r="2.3" fill="#008000"/>
<circle cx="161.5" cy="79.81" r="2.3" fill="#008000"/>
<circle cx="166.45" cy="75.3" r="2.3" fill="#008000"/>
<circle cx="171.4" cy="71.06" r="2.3" fill="#008000"/>
<circle cx="176.35" cy="66.95" r="2.3" fill="#008000"/>
<circle cx="181.3" cy="62.84" r="2.3" fill="#008000"/>
<circle cx="186.25" cy="60.19" r="2.3" fill="#008000"/>
<circle cx="191.2" cy="58.33" r="2.3" fill="#008000"/>
<circle cx="196.15" cy="56.87" r="2.3" fill="#008000"/>
<circle cx="201.1" cy="55.68" r="2.3" fill="#008000"/>
<circle cx="206.05" cy="54.22" r="2.3" fill="#008000"/>
<circle cx="211" cy="53.82" r="2.3" fill="#008000"/>
<circle cx="215.95" cy="53.42" r="2.3" fill="#008000"/>
<circle cx="220.9" cy="50.11" r="2.3" fill="#008000"/>
<circle cx="225.85" cy="52.36" r="2.3" fill="#008000"/>
<circle cx="230.8" cy="49.58" r="2.3" fill="#008000"/>
<circle cx="235.75" cy="50.11" r="2.3" fill="#008000"/>
<circle cx="240.7" cy="49.18" r="2.3" fill="#008000"/>
<circle cx="245.65" cy="49.31" r="2.3" fill="#008000"/>
<circle cx="250.6" cy="49.31" r="2.3" fill="#008000"/>
<circle cx="255.55" cy="49.71" r="2.3" fill="#008000"/>
<circle cx="260.5" cy="48.78" r="2.3" fill="#008000"/>
<circle cx="265.45" cy="48.65" r="2.3" fill="#008000"/>
<circle cx="270.4" cy="49.58" r="2.3" fill="#008000"/>
<circle cx="52.6" cy="181.12" r="2.3" fill="#000"/>
<circle cx="57.55" cy="181.12" r="2.3" fill="#000"/>
<circle cx="62.5" cy="181.12" r="2.3" fill="#000"/>
<circle cx="67.45" cy="181.12" r="2.3" fill="#000"/>
<circle cx="72.4" cy="181.12" r="2.3" fill="#000"/>
<circle cx="77.35" cy="181.12" r="2.3" fill="#000"/>
<circle cx="82.3" cy="179.39" r="2.3" fill="#000"/>
<circle cx="87.25" cy="179.39" r="2.3" fill="#000"/>
<circle cx="92.2" cy="179.13" r="2.3" fill="#000"/>
<circle cx="97.15" cy="177.01" r="2.3" fill="#000"/>
<circle cx="102.1" cy="174.75" r="2.3" fill="#000"/>
<circle cx="107.05" cy="172.37" r="2.3" fill="#000"/>
<circle cx="112" cy="168.39" r="2.3" fill="#000"/>
<circle cx="116.95" cy="164.54" r="2.3" fill="#000"/>
<circle cx="121.9" cy="159.24" r="2.3" fill="#000"/>
<circle cx="126.85" cy="154.33" r="2.3" fill="#000"/>
<circle cx="131.8" cy="148.1" r="2.3" fill="#000"/>
<circle cx="136.75" cy="141.34" r="2.3" fill="#000"/>
<circle cx="141.7" cy="133.91" r="2.3" fill="#000"/>
<circle cx="146.65" cy="126.22" r="2.3" fill="#000"/>
<circle cx="151.6" cy="118" r="2.3" fill="#000"/>
<circle cx="156.55" cy="111.64" r="2.3" fill="#000"/>
<circle cx="161.5" cy="105.67" r="2.3" fill="#000"/>
<circle cx="166.45" cy="99.7" r="2.3" fill="#000"/>
<circle cx="171.4" cy="94.13" r="2.3" fill="#000"/>
<circle cx="176.35" cy="90.15" r="2.3" fill="#000"/>
<circle cx="181.3" cy="85.12" r="2.3" fill="#000"/>
<circle cx="186.25" cy="81.27" r="2.3" fill="#000"/>
<circle cx="191.2" cy="77.56" r="2.3" fill="#000"/>
<circle cx="196.15" cy="74.64" r="2.3" fill="#000"/>
<circle cx="201.1" cy="72.25" r="2.3" fill="#000"/>
<circle cx="206.05" cy="70.53" r="2.3" fill="#000"/>
<circle cx="211" cy="67.08" r="2.3" fill="#000"/>
<circle cx="215.95" cy="65.62" r="2.3" fill="#000"/>
<circle cx="220.9" cy="63.1" r="2.3" fill="#000"/>
<circle cx="225.85" cy="61.51" r="2.3" fill="#000"/>
<circle cx="230.8" cy="60.85" r="2.3" fill="#000"/>
<circle cx="235.75" cy="59.79" r="2.3" fill="#000"/>
<circle cx="240.7" cy="60.19" r="2.3" fill="#000"/>
<circle cx="245.65" cy="58.46" r="2.3" fill="#000"/>
<circle cx="250.6" cy="57.14" r="2.3" fill="#000"/>
<circle cx="255.55" cy="56.61" r="2.3" fill="#000"/>
<circle cx="260.5" cy="55.68" r="2.3" fill="#000"/>
<circle cx="265.45" cy="56.08" r="2.3" fill="#000"/>
<circle cx="270.4" cy="54.75" r="2.3" fill="#000"/>
<path d="M159.25,43.6 L160.55,40.6 L270.55,40.6 L271.85,43.6" stroke="#444" stroke-width="1.1" fill="none" stroke-linejoin="round"/>
<line x1="215.3" y1="40.6" x2="215.3" y2="38.1" stroke="#444" stroke-width="1.1"/>
<path d="M214.8,29.3 L214.8,26.5 M214.8,29.3 L217.46,28.43 M214.8,29.3 L216.45,31.57 M214.8,29.3 L213.15,31.57 M214.8,29.3 L212.14,28.43 " stroke="#111" stroke-width="1.5" stroke-linecap="round" fill="none"/>
<text x="203.4" y="21.7" font-size="7.8" text-anchor="start" fill="#202020" stroke="#202020" stroke-width="0.06" textLength="45.6" lengthAdjust="spacingAndGlyphs">p &lt; 0.05, t-test</text>
<path d="M180,105.6 L180,102.8 M180,105.6 L182.66,104.73 M180,105.6 L181.65,107.87 M180,105.6 L178.35,107.87 M180,105.6 L177.34,104.73 " stroke="#111" stroke-width="1.5" stroke-linecap="round" fill="none"/>
<text x="194" y="108.9" font-size="8.1" text-anchor="start" fill="#202020" stroke="#202020" stroke-width="0.06" textLength="70" lengthAdjust="spacingAndGlyphs">Non-linear regression:</text>
<text x="212.2" y="117.7" font-size="8.1" text-anchor="start" fill="#202020" stroke="#202020" stroke-width="0.06" textLength="28" lengthAdjust="spacingAndGlyphs">p &lt; 0.001</text>
<circle cx="186.9" cy="156.2" r="2.0" fill="#008000"/>
<circle cx="186.9" cy="169.5" r="2.0" fill="#000"/>
<text x="199.4" y="160.5" font-size="10.8" text-anchor="start" fill="#222" textLength="62.6" lengthAdjust="spacingAndGlyphs">ClC-1 inhibitor</text>
<text x="199.6" y="172.9" font-size="10.8" text-anchor="start" fill="#222" textLength="35.6" lengthAdjust="spacingAndGlyphs">Placebo</text>
<text x="22.1" y="282.6" font-size="11.2" text-anchor="start" fill="#111" font-weight="bold">D</text>
<text x="122.5" y="282.6" font-size="13" text-anchor="start" fill="#222" textLength="70.7" lengthAdjust="spacingAndGlyphs">Rocuronium</text>
<line x1="41.1" y1="459.7" x2="41.1" y2="300.6" stroke="#111" stroke-width="1.4"/>
<line x1="35.5" y1="459.1" x2="41.1" y2="459.1" stroke="#111" stroke-width="1.4"/>
<text x="31.4" y="463.3" font-size="10.4" text-anchor="end" fill="#222">0</text>
<line x1="37.5" y1="445.94" x2="41.1" y2="445.94" stroke="#111" stroke-width="1.4"/>
<line x1="35.5" y1="432.78" x2="41.1" y2="432.78" stroke="#111" stroke-width="1.4"/>
<text x="31.4" y="436.98" font-size="10.4" text-anchor="end" fill="#222">20</text>
<line x1="37.5" y1="419.62" x2="41.1" y2="419.62" stroke="#111" stroke-width="1.4"/>
<line x1="35.5" y1="406.47" x2="41.1" y2="406.47" stroke="#111" stroke-width="1.4"/>
<text x="31.4" y="410.67" font-size="10.4" text-anchor="end" fill="#222">40</text>
<line x1="37.5" y1="393.31" x2="41.1" y2="393.31" stroke="#111" stroke-width="1.4"/>
<line x1="35.5" y1="380.15" x2="41.1" y2="380.15" stroke="#111" stroke-width="1.4"/>
<text x="31.4" y="384.35" font-size="10.4" text-anchor="end" fill="#222">60</text>
<line x1="37.5" y1="366.99" x2="41.1" y2="366.99" stroke="#111" stroke-width="1.4"/>
<line x1="35.5" y1="353.83" x2="41.1" y2="353.83" stroke="#111" stroke-width="1.4"/>
<text x="31.4" y="358.03" font-size="10.4" text-anchor="end" fill="#222">80</text>
<line x1="37.5" y1="340.68" x2="41.1" y2="340.68" stroke="#111" stroke-width="1.4"/>
<line x1="35.5" y1="327.52" x2="41.1" y2="327.52" stroke="#111" stroke-width="1.4"/>
<text x="31.4" y="331.72" font-size="10.4" text-anchor="end" fill="#222">100</text>
<line x1="37.5" y1="314.36" x2="41.1" y2="314.36" stroke="#111" stroke-width="1.4"/>
<line x1="35.5" y1="301.2" x2="41.1" y2="301.2" stroke="#111" stroke-width="1.4"/>
<text x="31.4" y="305.4" font-size="10.4" text-anchor="end" fill="#222">120</text>
<text x="9.5" y="443.2" font-size="13" text-anchor="start" fill="#222" textLength="133" lengthAdjust="spacingAndGlyphs" transform="rotate(-90 9.5 443.2)">Recovery of TOFR (%)</text>
<line x1="54" y1="463.9" x2="270.8" y2="463.9" stroke="#111" stroke-width="1.4"/>
<line x1="54.6" y1="463.9" x2="54.6" y2="469.3" stroke="#111" stroke-width="1.4"/>
<line x1="64.39" y1="463.9" x2="64.39" y2="466.8" stroke="#111" stroke-width="1.4"/>
<line x1="74.18" y1="463.9" x2="74.18" y2="466.8" stroke="#111" stroke-width="1.4"/>
<line x1="83.97" y1="463.9" x2="83.97" y2="466.8" stroke="#111" stroke-width="1.4"/>
<line x1="93.76" y1="463.9" x2="93.76" y2="466.8" stroke="#111" stroke-width="1.4"/>
<line x1="103.55" y1="463.9" x2="103.55" y2="469.3" stroke="#111" stroke-width="1.4"/>
<line x1="113.34" y1="463.9" x2="113.34" y2="466.8" stroke="#111" stroke-width="1.4"/>
<line x1="123.13" y1="463.9" x2="123.13" y2="466.8" stroke="#111" stroke-width="1.4"/>
<line x1="132.92" y1="463.9" x2="132.92" y2="466.8" stroke="#111" stroke-width="1.4"/>
<line x1="142.71" y1="463.9" x2="142.71" y2="466.8" stroke="#111" stroke-width="1.4"/>
<line x1="152.5" y1="463.9" x2="152.5" y2="469.3" stroke="#111" stroke-width="1.4"/>
<line x1="162.29" y1="463.9" x2="162.29" y2="466.8" stroke="#111" stroke-width="1.4"/>
<line x1="172.08" y1="463.9" x2="172.08" y2="466.8" stroke="#111" stroke-width="1.4"/>
<line x1="181.87" y1="463.9" x2="181.87" y2="466.8" stroke="#111" stroke-width="1.4"/>
<line x1="191.66" y1="463.9" x2="191.66" y2="466.8" stroke="#111" stroke-width="1.4"/>
<line x1="201.45" y1="463.9" x2="201.45" y2="469.3" stroke="#111" stroke-width="1.4"/>
<line x1="211.24" y1="463.9" x2="211.24" y2="466.8" stroke="#111" stroke-width="1.4"/>
<line x1="221.03" y1="463.9" x2="221.03" y2="466.8" stroke="#111" stroke-width="1.4"/>
<line x1="230.82" y1="463.9" x2="230.82" y2="466.8" stroke="#111" stroke-width="1.4"/>
<line x1="240.61" y1="463.9" x2="240.61" y2="466.8" stroke="#111" stroke-width="1.4"/>
<line x1="250.4" y1="463.9" x2="250.4" y2="469.3" stroke="#111" stroke-width="1.4"/>
<line x1="260.19" y1="463.9" x2="260.19" y2="466.8" stroke="#111" stroke-width="1.4"/>
<line x1="269.98" y1="463.9" x2="269.98" y2="466.8" stroke="#111" stroke-width="1.4"/>
<text x="54.7" y="480.9" font-size="10.5" text-anchor="middle" fill="#222">0</text>
<text x="103.7" y="480.9" font-size="10.5" text-anchor="middle" fill="#222">5</text>
<text x="153" y="480.9" font-size="10.5" text-anchor="middle" fill="#222">10</text>
<text x="201.8" y="480.9" font-size="10.5" text-anchor="middle" fill="#222">15</text>
<text x="250.8" y="480.9" font-size="10.5" text-anchor="middle" fill="#222">20</text>
<text x="116.9" y="499.7" font-size="13" text-anchor="start" fill="#222" textLength="89.8" lengthAdjust="spacingAndGlyphs">Time (minutes)</text>
<line x1="69.28" y1="455.42" x2="69.28" y2="457.52" stroke="#6cbf6c" stroke-width="0.9"/>
<line x1="67.58" y1="455.42" x2="70.98" y2="455.42" stroke="#6cbf6c" stroke-width="0.9"/>
<line x1="67.58" y1="457.52" x2="70.98" y2="457.52" stroke="#6cbf6c" stroke-width="0.9"/>
<line x1="74.18" y1="444.62" x2="74.18" y2="452.52" stroke="#6cbf6c" stroke-width="0.9"/>
<line x1="72.48" y1="444.62" x2="75.88" y2="444.62" stroke="#6cbf6c" stroke-width="0.9"/>
<line x1="72.48" y1="452.52" x2="75.88" y2="452.52" stroke="#6cbf6c" stroke-width="0.9"/>
<line x1="79.08" y1="430.94" x2="79.08" y2="446.73" stroke="#6cbf6c" stroke-width="0.9"/>
<line x1="77.38" y1="430.94" x2="80.78" y2="430.94" stroke="#6cbf6c" stroke-width="0.9"/>
<line x1="77.38" y1="446.73" x2="80.78" y2="446.73" stroke="#6cbf6c" stroke-width="0.9"/>
<line x1="83.97" y1="410.54" x2="83.97" y2="434.23" stroke="#6cbf6c" stroke-width="0.9"/>
<line x1="82.27" y1="410.54" x2="85.67" y2="410.54" stroke="#6cbf6c" stroke-width="0.9"/>
<line x1="82.27" y1="434.23" x2="85.67" y2="434.23" stroke="#6cbf6c" stroke-width="0.9"/>
<line x1="88.87" y1="389.09" x2="88.87" y2="415.41" stroke="#6cbf6c" stroke-width="0.9"/>
<line x1="87.17" y1="389.09" x2="90.57" y2="389.09" stroke="#6cbf6c" stroke-width="0.9"/>
<line x1="87.17" y1="415.41" x2="90.57" y2="415.41" stroke="#6cbf6c" stroke-width="0.9"/>
<line x1="93.76" y1="372.9" x2="93.76" y2="395.27" stroke="#6cbf6c" stroke-width="0.9"/>
<line x1="92.06" y1="372.9" x2="95.46" y2="372.9" stroke="#6cbf6c" stroke-width="0.9"/>
<line x1="92.06" y1="395.27" x2="95.46" y2="395.27" stroke="#6cbf6c" stroke-width="0.9"/>
<line x1="98.66" y1="362.51" x2="98.66" y2="382.25" stroke="#6cbf6c" stroke-width="0.9"/>
<line x1="96.95" y1="362.51" x2="100.36" y2="362.51" stroke="#6cbf6c" stroke-width="0.9"/>
<line x1="96.95" y1="382.25" x2="100.36" y2="382.25" stroke="#6cbf6c" stroke-width="0.9"/>
<line x1="103.55" y1="355.14" x2="103.55" y2="372.24" stroke="#6cbf6c" stroke-width="0.9"/>
<line x1="101.85" y1="355.14" x2="105.25" y2="355.14" stroke="#6cbf6c" stroke-width="0.9"/>
<line x1="101.85" y1="372.24" x2="105.25" y2="372.24" stroke="#6cbf6c" stroke-width="0.9"/>
<line x1="108.44" y1="349.08" x2="108.44" y2="363.56" stroke="#6cbf6c" stroke-width="0.9"/>
<line x1="106.74" y1="349.08" x2="110.14" y2="349.08" stroke="#6cbf6c" stroke-width="0.9"/>
<line x1="106.74" y1="363.56" x2="110.14" y2="363.56" stroke="#6cbf6c" stroke-width="0.9"/>
<line x1="113.34" y1="344.48" x2="113.34" y2="357.11" stroke="#6cbf6c" stroke-width="0.9"/>
<line x1="111.64" y1="344.48" x2="115.04" y2="344.48" stroke="#6cbf6c" stroke-width="0.9"/>
<line x1="111.64" y1="357.11" x2="115.04" y2="357.11" stroke="#6cbf6c" stroke-width="0.9"/>
<line x1="118.23" y1="340.79" x2="118.23" y2="351.32" stroke="#6cbf6c" stroke-width="0.9"/>
<line x1="116.53" y1="340.79" x2="119.93" y2="340.79" stroke="#6cbf6c" stroke-width="0.9"/>
<line x1="116.53" y1="351.32" x2="119.93" y2="351.32" stroke="#6cbf6c" stroke-width="0.9"/>
<line x1="123.13" y1="337.76" x2="123.13" y2="346.19" stroke="#6cbf6c" stroke-width="0.9"/>
<line x1="121.43" y1="337.76" x2="124.83" y2="337.76" stroke="#6cbf6c" stroke-width="0.9"/>
<line x1="121.43" y1="346.19" x2="124.83" y2="346.19" stroke="#6cbf6c" stroke-width="0.9"/>
<line x1="128.03" y1="335.92" x2="128.03" y2="342.77" stroke="#6cbf6c" stroke-width="0.9"/>
<line x1="126.33" y1="335.92" x2="129.72" y2="335.92" stroke="#6cbf6c" stroke-width="0.9"/>
<line x1="126.33" y1="342.77" x2="129.72" y2="342.77" stroke="#6cbf6c" stroke-width="0.9"/>
<line x1="132.92" y1="333.82" x2="132.92" y2="339.08" stroke="#6cbf6c" stroke-width="0.9"/>
<line x1="131.22" y1="333.82" x2="134.62" y2="333.82" stroke="#6cbf6c" stroke-width="0.9"/>
<line x1="131.22" y1="339.08" x2="134.62" y2="339.08" stroke="#6cbf6c" stroke-width="0.9"/>
<line x1="137.81" y1="331.97" x2="137.81" y2="336.19" stroke="#6cbf6c" stroke-width="0.9"/>
<line x1="136.12" y1="331.97" x2="139.51" y2="331.97" stroke="#6cbf6c" stroke-width="0.9"/>
<line x1="136.12" y1="336.19" x2="139.51" y2="336.19" stroke="#6cbf6c" stroke-width="0.9"/>
<line x1="142.71" y1="329.21" x2="142.71" y2="332.63" stroke="#6cbf6c" stroke-width="0.9"/>
<line x1="141.01" y1="329.21" x2="144.41" y2="329.21" stroke="#6cbf6c" stroke-width="0.9"/>
<line x1="141.01" y1="332.63" x2="144.41" y2="332.63" stroke="#6cbf6c" stroke-width="0.9"/>
<line x1="147.6" y1="329.74" x2="147.6" y2="332.9" stroke="#6cbf6c" stroke-width="0.9"/>
<line x1="145.91" y1="329.74" x2="149.3" y2="329.74" stroke="#6cbf6c" stroke-width="0.9"/>
<line x1="145.91" y1="332.9" x2="149.3" y2="332.9" stroke="#6cbf6c" stroke-width="0.9"/>
<line x1="152.5" y1="328.29" x2="152.5" y2="331.18" stroke="#6cbf6c" stroke-width="0.9"/>
<line x1="150.8" y1="328.29" x2="154.2" y2="328.29" stroke="#6cbf6c" stroke-width="0.9"/>
<line x1="150.8" y1="331.18" x2="154.2" y2="331.18" stroke="#6cbf6c" stroke-width="0.9"/>
<line x1="157.39" y1="328.03" x2="157.39" y2="330.66" stroke="#6cbf6c" stroke-width="0.9"/>
<line x1="155.69" y1="328.03" x2="159.09" y2="328.03" stroke="#6cbf6c" stroke-width="0.9"/>
<line x1="155.69" y1="330.66" x2="159.09" y2="330.66" stroke="#6cbf6c" stroke-width="0.9"/>
<line x1="162.29" y1="327.89" x2="162.29" y2="330.53" stroke="#6cbf6c" stroke-width="0.9"/>
<line x1="160.59" y1="327.89" x2="163.99" y2="327.89" stroke="#6cbf6c" stroke-width="0.9"/>
<line x1="160.59" y1="330.53" x2="163.99" y2="330.53" stroke="#6cbf6c" stroke-width="0.9"/>
<line x1="167.19" y1="327.37" x2="167.19" y2="330" stroke="#6cbf6c" stroke-width="0.9"/>
<line x1="165.49" y1="327.37" x2="168.88" y2="327.37" stroke="#6cbf6c" stroke-width="0.9"/>
<line x1="165.49" y1="330" x2="168.88" y2="330" stroke="#6cbf6c" stroke-width="0.9"/>
<line x1="172.08" y1="325.66" x2="172.08" y2="328.29" stroke="#6cbf6c" stroke-width="0.9"/>
<line x1="170.38" y1="325.66" x2="173.78" y2="325.66" stroke="#6cbf6c" stroke-width="0.9"/>
<line x1="170.38" y1="328.29" x2="173.78" y2="328.29" stroke="#6cbf6c" stroke-width="0.9"/>
<line x1="176.97" y1="328.55" x2="176.97" y2="331.18" stroke="#6cbf6c" stroke-width="0.9"/>
<line x1="175.28" y1="328.55" x2="178.67" y2="328.55" stroke="#6cbf6c" stroke-width="0.9"/>
<line x1="175.28" y1="331.18" x2="178.67" y2="331.18" stroke="#6cbf6c" stroke-width="0.9"/>
<line x1="181.87" y1="326.18" x2="181.87" y2="328.82" stroke="#6cbf6c" stroke-width="0.9"/>
<line x1="180.17" y1="326.18" x2="183.57" y2="326.18" stroke="#6cbf6c" stroke-width="0.9"/>
<line x1="180.17" y1="328.82" x2="183.57" y2="328.82" stroke="#6cbf6c" stroke-width="0.9"/>
<line x1="186.76" y1="324.87" x2="186.76" y2="327.5" stroke="#6cbf6c" stroke-width="0.9"/>
<line x1="185.06" y1="324.87" x2="188.46" y2="324.87" stroke="#6cbf6c" stroke-width="0.9"/>
<line x1="185.06" y1="327.5" x2="188.46" y2="327.5" stroke="#6cbf6c" stroke-width="0.9"/>
<line x1="191.66" y1="324.74" x2="191.66" y2="327.37" stroke="#6cbf6c" stroke-width="0.9"/>
<line x1="189.96" y1="324.74" x2="193.36" y2="324.74" stroke="#6cbf6c" stroke-width="0.9"/>
<line x1="189.96" y1="327.37" x2="193.36" y2="327.37" stroke="#6cbf6c" stroke-width="0.9"/>
<line x1="196.55" y1="325.13" x2="196.55" y2="327.24" stroke="#6cbf6c" stroke-width="0.9"/>
<line x1="194.85" y1="325.13" x2="198.25" y2="325.13" stroke="#6cbf6c" stroke-width="0.9"/>
<line x1="194.85" y1="327.24" x2="198.25" y2="327.24" stroke="#6cbf6c" stroke-width="0.9"/>
<line x1="201.45" y1="324.74" x2="201.45" y2="326.84" stroke="#6cbf6c" stroke-width="0.9"/>
<line x1="199.75" y1="324.74" x2="203.15" y2="324.74" stroke="#6cbf6c" stroke-width="0.9"/>
<line x1="199.75" y1="326.84" x2="203.15" y2="326.84" stroke="#6cbf6c" stroke-width="0.9"/>
<line x1="206.34" y1="325.79" x2="206.34" y2="327.89" stroke="#6cbf6c" stroke-width="0.9"/>
<line x1="204.64" y1="325.79" x2="208.04" y2="325.79" stroke="#6cbf6c" stroke-width="0.9"/>
<line x1="204.64" y1="327.89" x2="208.04" y2="327.89" stroke="#6cbf6c" stroke-width="0.9"/>
<line x1="211.24" y1="325" x2="211.24" y2="327.11" stroke="#6cbf6c" stroke-width="0.9"/>
<line x1="209.54" y1="325" x2="212.94" y2="325" stroke="#6cbf6c" stroke-width="0.9"/>
<line x1="209.54" y1="327.11" x2="212.94" y2="327.11" stroke="#6cbf6c" stroke-width="0.9"/>
<line x1="216.13" y1="325.53" x2="216.13" y2="327.63" stroke="#6cbf6c" stroke-width="0.9"/>
<line x1="214.44" y1="325.53" x2="217.83" y2="325.53" stroke="#6cbf6c" stroke-width="0.9"/>
<line x1="214.44" y1="327.63" x2="217.83" y2="327.63" stroke="#6cbf6c" stroke-width="0.9"/>
<line x1="221.03" y1="325.39" x2="221.03" y2="327.5" stroke="#6cbf6c" stroke-width="0.9"/>
<line x1="219.33" y1="325.39" x2="222.73" y2="325.39" stroke="#6cbf6c" stroke-width="0.9"/>
<line x1="219.33" y1="327.5" x2="222.73" y2="327.5" stroke="#6cbf6c" stroke-width="0.9"/>
<line x1="225.92" y1="325.13" x2="225.92" y2="327.24" stroke="#6cbf6c" stroke-width="0.9"/>
<line x1="224.22" y1="325.13" x2="227.62" y2="325.13" stroke="#6cbf6c" stroke-width="0.9"/>
<line x1="224.22" y1="327.24" x2="227.62" y2="327.24" stroke="#6cbf6c" stroke-width="0.9"/>
<line x1="230.82" y1="325.79" x2="230.82" y2="327.89" stroke="#6cbf6c" stroke-width="0.9"/>
<line x1="229.12" y1="325.79" x2="232.52" y2="325.79" stroke="#6cbf6c" stroke-width="0.9"/>
<line x1="229.12" y1="327.89" x2="232.52" y2="327.89" stroke="#6cbf6c" stroke-width="0.9"/>
<line x1="235.71" y1="324.87" x2="235.71" y2="326.97" stroke="#6cbf6c" stroke-width="0.9"/>
<line x1="234.01" y1="324.87" x2="237.41" y2="324.87" stroke="#6cbf6c" stroke-width="0.9"/>
<line x1="234.01" y1="326.97" x2="237.41" y2="326.97" stroke="#6cbf6c" stroke-width="0.9"/>
<line x1="240.61" y1="324.21" x2="240.61" y2="326.32" stroke="#6cbf6c" stroke-width="0.9"/>
<line x1="238.91" y1="324.21" x2="242.31" y2="324.21" stroke="#6cbf6c" stroke-width="0.9"/>
<line x1="238.91" y1="326.32" x2="242.31" y2="326.32" stroke="#6cbf6c" stroke-width="0.9"/>
<line x1="245.5" y1="324.08" x2="245.5" y2="326.18" stroke="#6cbf6c" stroke-width="0.9"/>
<line x1="243.8" y1="324.08" x2="247.2" y2="324.08" stroke="#6cbf6c" stroke-width="0.9"/>
<line x1="243.8" y1="326.18" x2="247.2" y2="326.18" stroke="#6cbf6c" stroke-width="0.9"/>
<line x1="250.4" y1="324.47" x2="250.4" y2="326.58" stroke="#6cbf6c" stroke-width="0.9"/>
<line x1="248.7" y1="324.47" x2="252.1" y2="324.47" stroke="#6cbf6c" stroke-width="0.9"/>
<line x1="248.7" y1="326.58" x2="252.1" y2="326.58" stroke="#6cbf6c" stroke-width="0.9"/>
<line x1="255.29" y1="323.29" x2="255.29" y2="325.39" stroke="#6cbf6c" stroke-width="0.9"/>
<line x1="253.59" y1="323.29" x2="257" y2="323.29" stroke="#6cbf6c" stroke-width="0.9"/>
<line x1="253.59" y1="325.39" x2="257" y2="325.39" stroke="#6cbf6c" stroke-width="0.9"/>
<line x1="260.19" y1="324.47" x2="260.19" y2="326.58" stroke="#6cbf6c" stroke-width="0.9"/>
<line x1="258.49" y1="324.47" x2="261.89" y2="324.47" stroke="#6cbf6c" stroke-width="0.9"/>
<line x1="258.49" y1="326.58" x2="261.89" y2="326.58" stroke="#6cbf6c" stroke-width="0.9"/>
<line x1="265.08" y1="325.79" x2="265.08" y2="327.89" stroke="#6cbf6c" stroke-width="0.9"/>
<line x1="263.38" y1="325.79" x2="266.78" y2="325.79" stroke="#6cbf6c" stroke-width="0.9"/>
<line x1="263.38" y1="327.89" x2="266.78" y2="327.89" stroke="#6cbf6c" stroke-width="0.9"/>
<line x1="269.98" y1="325.53" x2="269.98" y2="327.63" stroke="#6cbf6c" stroke-width="0.9"/>
<line x1="268.28" y1="325.53" x2="271.68" y2="325.53" stroke="#6cbf6c" stroke-width="0.9"/>
<line x1="268.28" y1="327.63" x2="271.68" y2="327.63" stroke="#6cbf6c" stroke-width="0.9"/>
<line x1="88.87" y1="453.18" x2="88.87" y2="455.28" stroke="#595959" stroke-width="0.9"/>
<line x1="87.17" y1="453.18" x2="90.57" y2="453.18" stroke="#595959" stroke-width="0.9"/>
<line x1="87.17" y1="455.28" x2="90.57" y2="455.28" stroke="#595959" stroke-width="0.9"/>
<line x1="93.76" y1="449.36" x2="93.76" y2="451.99" stroke="#595959" stroke-width="0.9"/>
<line x1="92.06" y1="449.36" x2="95.46" y2="449.36" stroke="#595959" stroke-width="0.9"/>
<line x1="92.06" y1="451.99" x2="95.46" y2="451.99" stroke="#595959" stroke-width="0.9"/>
<line x1="98.66" y1="439.62" x2="98.66" y2="443.83" stroke="#595959" stroke-width="0.9"/>
<line x1="96.95" y1="439.62" x2="100.36" y2="439.62" stroke="#595959" stroke-width="0.9"/>
<line x1="96.95" y1="443.83" x2="100.36" y2="443.83" stroke="#595959" stroke-width="0.9"/>
<line x1="103.55" y1="425.28" x2="103.55" y2="434.75" stroke="#595959" stroke-width="0.9"/>
<line x1="101.85" y1="425.28" x2="105.25" y2="425.28" stroke="#595959" stroke-width="0.9"/>
<line x1="101.85" y1="434.75" x2="105.25" y2="434.75" stroke="#595959" stroke-width="0.9"/>
<line x1="108.44" y1="411.72" x2="108.44" y2="424.88" stroke="#595959" stroke-width="0.9"/>
<line x1="106.74" y1="411.72" x2="110.14" y2="411.72" stroke="#595959" stroke-width="0.9"/>
<line x1="106.74" y1="424.88" x2="110.14" y2="424.88" stroke="#595959" stroke-width="0.9"/>
<line x1="113.34" y1="397.12" x2="113.34" y2="416.86" stroke="#595959" stroke-width="0.9"/>
<line x1="111.64" y1="397.12" x2="115.04" y2="397.12" stroke="#595959" stroke-width="0.9"/>
<line x1="111.64" y1="416.86" x2="115.04" y2="416.86" stroke="#595959" stroke-width="0.9"/>
<line x1="118.23" y1="387.11" x2="118.23" y2="410.8" stroke="#595959" stroke-width="0.9"/>
<line x1="116.53" y1="387.11" x2="119.93" y2="387.11" stroke="#595959" stroke-width="0.9"/>
<line x1="116.53" y1="410.8" x2="119.93" y2="410.8" stroke="#595959" stroke-width="0.9"/>
<line x1="123.13" y1="377.51" x2="123.13" y2="403.3" stroke="#595959" stroke-width="0.9"/>
<line x1="121.43" y1="377.51" x2="124.83" y2="377.51" stroke="#595959" stroke-width="0.9"/>
<line x1="121.43" y1="403.3" x2="124.83" y2="403.3" stroke="#595959" stroke-width="0.9"/>
<line x1="128.03" y1="370.01" x2="128.03" y2="396.33" stroke="#595959" stroke-width="0.9"/>
<line x1="126.33" y1="370.01" x2="129.72" y2="370.01" stroke="#595959" stroke-width="0.9"/>
<line x1="126.33" y1="396.33" x2="129.72" y2="396.33" stroke="#595959" stroke-width="0.9"/>
<line x1="132.92" y1="364.87" x2="132.92" y2="390.14" stroke="#595959" stroke-width="0.9"/>
<line x1="131.22" y1="364.87" x2="134.62" y2="364.87" stroke="#595959" stroke-width="0.9"/>
<line x1="131.22" y1="390.14" x2="134.62" y2="390.14" stroke="#595959" stroke-width="0.9"/>
<line x1="137.81" y1="358.43" x2="137.81" y2="382.11" stroke="#595959" stroke-width="0.9"/>
<line x1="136.12" y1="358.43" x2="139.51" y2="358.43" stroke="#595959" stroke-width="0.9"/>
<line x1="136.12" y1="382.11" x2="139.51" y2="382.11" stroke="#595959" stroke-width="0.9"/>
<line x1="142.71" y1="355.14" x2="142.71" y2="376.19" stroke="#595959" stroke-width="0.9"/>
<line x1="141.01" y1="355.14" x2="144.41" y2="355.14" stroke="#595959" stroke-width="0.9"/>
<line x1="141.01" y1="376.19" x2="144.41" y2="376.19" stroke="#595959" stroke-width="0.9"/>
<line x1="147.6" y1="351.06" x2="147.6" y2="369.48" stroke="#595959" stroke-width="0.9"/>
<line x1="145.91" y1="351.06" x2="149.3" y2="351.06" stroke="#595959" stroke-width="0.9"/>
<line x1="145.91" y1="369.48" x2="149.3" y2="369.48" stroke="#595959" stroke-width="0.9"/>
<line x1="152.5" y1="346.71" x2="152.5" y2="363.03" stroke="#595959" stroke-width="0.9"/>
<line x1="150.8" y1="346.71" x2="154.2" y2="346.71" stroke="#595959" stroke-width="0.9"/>
<line x1="150.8" y1="363.03" x2="154.2" y2="363.03" stroke="#595959" stroke-width="0.9"/>
<line x1="157.39" y1="343.56" x2="157.39" y2="356.72" stroke="#595959" stroke-width="0.9"/>
<line x1="155.69" y1="343.56" x2="159.09" y2="343.56" stroke="#595959" stroke-width="0.9"/>
<line x1="155.69" y1="356.72" x2="159.09" y2="356.72" stroke="#595959" stroke-width="0.9"/>
<line x1="162.29" y1="340.4" x2="162.29" y2="350.92" stroke="#595959" stroke-width="0.9"/>
<line x1="160.59" y1="340.4" x2="163.99" y2="340.4" stroke="#595959" stroke-width="0.9"/>
<line x1="160.59" y1="350.92" x2="163.99" y2="350.92" stroke="#595959" stroke-width="0.9"/>
<line x1="167.19" y1="338.95" x2="167.19" y2="348.42" stroke="#595959" stroke-width="0.9"/>
<line x1="165.49" y1="338.95" x2="168.88" y2="338.95" stroke="#595959" stroke-width="0.9"/>
<line x1="165.49" y1="348.42" x2="168.88" y2="348.42" stroke="#595959" stroke-width="0.9"/>
<line x1="172.08" y1="337.11" x2="172.08" y2="345" stroke="#595959" stroke-width="0.9"/>
<line x1="170.38" y1="337.11" x2="173.78" y2="337.11" stroke="#595959" stroke-width="0.9"/>
<line x1="170.38" y1="345" x2="173.78" y2="345" stroke="#595959" stroke-width="0.9"/>
<line x1="176.97" y1="335.26" x2="176.97" y2="341.84" stroke="#595959" stroke-width="0.9"/>
<line x1="175.28" y1="335.26" x2="178.67" y2="335.26" stroke="#595959" stroke-width="0.9"/>
<line x1="175.28" y1="341.84" x2="178.67" y2="341.84" stroke="#595959" stroke-width="0.9"/>
<line x1="181.87" y1="334.87" x2="181.87" y2="340.13" stroke="#595959" stroke-width="0.9"/>
<line x1="180.17" y1="334.87" x2="183.57" y2="334.87" stroke="#595959" stroke-width="0.9"/>
<line x1="180.17" y1="340.13" x2="183.57" y2="340.13" stroke="#595959" stroke-width="0.9"/>
<line x1="186.76" y1="335.26" x2="186.76" y2="339.48" stroke="#595959" stroke-width="0.9"/>
<line x1="185.06" y1="335.26" x2="188.46" y2="335.26" stroke="#595959" stroke-width="0.9"/>
<line x1="185.06" y1="339.48" x2="188.46" y2="339.48" stroke="#595959" stroke-width="0.9"/>
<line x1="191.66" y1="332.63" x2="191.66" y2="336.84" stroke="#595959" stroke-width="0.9"/>
<line x1="189.96" y1="332.63" x2="193.36" y2="332.63" stroke="#595959" stroke-width="0.9"/>
<line x1="189.96" y1="336.84" x2="193.36" y2="336.84" stroke="#595959" stroke-width="0.9"/>
<line x1="196.55" y1="332.37" x2="196.55" y2="336.32" stroke="#595959" stroke-width="0.9"/>
<line x1="194.85" y1="332.37" x2="198.25" y2="332.37" stroke="#595959" stroke-width="0.9"/>
<line x1="194.85" y1="336.32" x2="198.25" y2="336.32" stroke="#595959" stroke-width="0.9"/>
<line x1="201.45" y1="332.5" x2="201.45" y2="336.19" stroke="#595959" stroke-width="0.9"/>
<line x1="199.75" y1="332.5" x2="203.15" y2="332.5" stroke="#595959" stroke-width="0.9"/>
<line x1="199.75" y1="336.19" x2="203.15" y2="336.19" stroke="#595959" stroke-width="0.9"/>
<line x1="206.34" y1="332.24" x2="206.34" y2="335.66" stroke="#595959" stroke-width="0.9"/>
<line x1="204.64" y1="332.24" x2="208.04" y2="332.24" stroke="#595959" stroke-width="0.9"/>
<line x1="204.64" y1="335.66" x2="208.04" y2="335.66" stroke="#595959" stroke-width="0.9"/>
<line x1="211.24" y1="331.18" x2="211.24" y2="334.34" stroke="#595959" stroke-width="0.9"/>
<line x1="209.54" y1="331.18" x2="212.94" y2="331.18" stroke="#595959" stroke-width="0.9"/>
<line x1="209.54" y1="334.34" x2="212.94" y2="334.34" stroke="#595959" stroke-width="0.9"/>
<line x1="216.13" y1="331.45" x2="216.13" y2="334.61" stroke="#595959" stroke-width="0.9"/>
<line x1="214.44" y1="331.45" x2="217.83" y2="331.45" stroke="#595959" stroke-width="0.9"/>
<line x1="214.44" y1="334.61" x2="217.83" y2="334.61" stroke="#595959" stroke-width="0.9"/>
<line x1="221.03" y1="329.74" x2="221.03" y2="332.63" stroke="#595959" stroke-width="0.9"/>
<line x1="219.33" y1="329.74" x2="222.73" y2="329.74" stroke="#595959" stroke-width="0.9"/>
<line x1="219.33" y1="332.63" x2="222.73" y2="332.63" stroke="#595959" stroke-width="0.9"/>
<line x1="225.92" y1="329.08" x2="225.92" y2="331.97" stroke="#595959" stroke-width="0.9"/>
<line x1="224.22" y1="329.08" x2="227.62" y2="329.08" stroke="#595959" stroke-width="0.9"/>
<line x1="224.22" y1="331.97" x2="227.62" y2="331.97" stroke="#595959" stroke-width="0.9"/>
<line x1="230.82" y1="330.53" x2="230.82" y2="333.16" stroke="#595959" stroke-width="0.9"/>
<line x1="229.12" y1="330.53" x2="232.52" y2="330.53" stroke="#595959" stroke-width="0.9"/>
<line x1="229.12" y1="333.16" x2="232.52" y2="333.16" stroke="#595959" stroke-width="0.9"/>
<line x1="235.71" y1="329.21" x2="235.71" y2="331.84" stroke="#595959" stroke-width="0.9"/>
<line x1="234.01" y1="329.21" x2="237.41" y2="329.21" stroke="#595959" stroke-width="0.9"/>
<line x1="234.01" y1="331.84" x2="237.41" y2="331.84" stroke="#595959" stroke-width="0.9"/>
<line x1="240.61" y1="328.03" x2="240.61" y2="330.66" stroke="#595959" stroke-width="0.9"/>
<line x1="238.91" y1="328.03" x2="242.31" y2="328.03" stroke="#595959" stroke-width="0.9"/>
<line x1="238.91" y1="330.66" x2="242.31" y2="330.66" stroke="#595959" stroke-width="0.9"/>
<line x1="245.5" y1="328.42" x2="245.5" y2="331.05" stroke="#595959" stroke-width="0.9"/>
<line x1="243.8" y1="328.42" x2="247.2" y2="328.42" stroke="#595959" stroke-width="0.9"/>
<line x1="243.8" y1="331.05" x2="247.2" y2="331.05" stroke="#595959" stroke-width="0.9"/>
<line x1="250.4" y1="327.76" x2="250.4" y2="330.4" stroke="#595959" stroke-width="0.9"/>
<line x1="248.7" y1="327.76" x2="252.1" y2="327.76" stroke="#595959" stroke-width="0.9"/>
<line x1="248.7" y1="330.4" x2="252.1" y2="330.4" stroke="#595959" stroke-width="0.9"/>
<line x1="255.29" y1="329.47" x2="255.29" y2="332.11" stroke="#595959" stroke-width="0.9"/>
<line x1="253.59" y1="329.47" x2="257" y2="329.47" stroke="#595959" stroke-width="0.9"/>
<line x1="253.59" y1="332.11" x2="257" y2="332.11" stroke="#595959" stroke-width="0.9"/>
<line x1="260.19" y1="326.58" x2="260.19" y2="329.21" stroke="#595959" stroke-width="0.9"/>
<line x1="258.49" y1="326.58" x2="261.89" y2="326.58" stroke="#595959" stroke-width="0.9"/>
<line x1="258.49" y1="329.21" x2="261.89" y2="329.21" stroke="#595959" stroke-width="0.9"/>
<line x1="265.08" y1="326.18" x2="265.08" y2="328.82" stroke="#595959" stroke-width="0.9"/>
<line x1="263.38" y1="326.18" x2="266.78" y2="326.18" stroke="#595959" stroke-width="0.9"/>
<line x1="263.38" y1="328.82" x2="266.78" y2="328.82" stroke="#595959" stroke-width="0.9"/>
<line x1="269.98" y1="328.03" x2="269.98" y2="330.66" stroke="#595959" stroke-width="0.9"/>
<line x1="268.28" y1="328.03" x2="271.68" y2="328.03" stroke="#595959" stroke-width="0.9"/>
<line x1="268.28" y1="330.66" x2="271.68" y2="330.66" stroke="#595959" stroke-width="0.9"/>
<polyline points="54.6,458.31 59.5,458.31 64.39,458.31 69.28,456.47 74.18,448.57 79.08,438.83 83.97,422.38 88.87,402.25 93.76,384.09 98.66,372.38 103.55,363.69 108.44,356.32 113.34,350.79 118.23,346.06 123.13,341.98 128.03,339.34 132.92,336.45 137.81,334.08 142.71,330.92 147.6,331.32 152.5,329.74 157.39,329.34 162.29,329.21 167.19,328.68 172.08,326.97 176.97,329.87 181.87,327.5 186.76,326.18 191.66,326.05 196.55,326.18 201.45,325.79 206.34,326.84 211.24,326.05 216.13,326.58 221.03,326.45 225.92,326.18 230.82,326.84 235.71,325.92 240.61,325.26 245.5,325.13 250.4,325.53 255.29,324.34 260.19,325.53 265.08,326.84 269.98,326.58" fill="none" stroke="#008000" stroke-width="0.7"/>
<polyline points="54.6,456.99 59.5,456.99 64.39,456.99 69.28,456.99 74.18,456.99 79.08,456.99 83.97,456.99 88.87,454.23 93.76,450.68 98.66,441.73 103.55,430.02 108.44,418.3 113.34,406.99 118.23,398.96 123.13,390.4 128.03,383.17 132.92,377.51 137.81,370.27 142.71,365.66 147.6,360.27 152.5,354.87 157.39,350.14 162.29,345.66 167.19,343.69 172.08,341.05 176.97,338.55 181.87,337.5 186.76,337.37 191.66,334.74 196.55,334.34 201.45,334.34 206.34,333.95 211.24,332.76 216.13,333.03 221.03,331.18 225.92,330.53 230.82,331.84 235.71,330.53 240.61,329.34 245.5,329.74 250.4,329.08 255.29,330.79 260.19,327.89 265.08,327.5 269.98,329.34" fill="none" stroke="#111" stroke-width="0.7"/>
<circle cx="54.6" cy="458.31" r="2.3" fill="#008000"/>
<circle cx="59.5" cy="458.31" r="2.3" fill="#008000"/>
<circle cx="64.39" cy="458.31" r="2.3" fill="#008000"/>
<circle cx="69.28" cy="456.47" r="2.3" fill="#008000"/>
<circle cx="74.18" cy="448.57" r="2.3" fill="#008000"/>
<circle cx="79.08" cy="438.83" r="2.3" fill="#008000"/>
<circle cx="83.97" cy="422.38" r="2.3" fill="#008000"/>
<circle cx="88.87" cy="402.25" r="2.3" fill="#008000"/>
<circle cx="93.76" cy="384.09" r="2.3" fill="#008000"/>
<circle cx="98.66" cy="372.38" r="2.3" fill="#008000"/>
<circle cx="103.55" cy="363.69" r="2.3" fill="#008000"/>
<circle cx="108.44" cy="356.32" r="2.3" fill="#008000"/>
<circle cx="113.34" cy="350.79" r="2.3" fill="#008000"/>
<circle cx="118.23" cy="346.06" r="2.3" fill="#008000"/>
<circle cx="123.13" cy="341.98" r="2.3" fill="#008000"/>
<circle cx="128.03" cy="339.34" r="2.3" fill="#008000"/>
<circle cx="132.92" cy="336.45" r="2.3" fill="#008000"/>
<circle cx="137.81" cy="334.08" r="2.3" fill="#008000"/>
<circle cx="142.71" cy="330.92" r="2.3" fill="#008000"/>
<circle cx="147.6" cy="331.32" r="2.3" fill="#008000"/>
<circle cx="152.5" cy="329.74" r="2.3" fill="#008000"/>
<circle cx="157.39" cy="329.34" r="2.3" fill="#008000"/>
<circle cx="162.29" cy="329.21" r="2.3" fill="#008000"/>
<circle cx="167.19" cy="328.68" r="2.3" fill="#008000"/>
<circle cx="172.08" cy="326.97" r="2.3" fill="#008000"/>
<circle cx="176.97" cy="329.87" r="2.3" fill="#008000"/>
<circle cx="181.87" cy="327.5" r="2.3" fill="#008000"/>
<circle cx="186.76" cy="326.18" r="2.3" fill="#008000"/>
<circle cx="191.66" cy="326.05" r="2.3" fill="#008000"/>
<circle cx="196.55" cy="326.18" r="2.3" fill="#008000"/>
<circle cx="201.45" cy="325.79" r="2.3" fill="#008000"/>
<circle cx="206.34" cy="326.84" r="2.3" fill="#008000"/>
<circle cx="211.24" cy="326.05" r="2.3" fill="#008000"/>
<circle cx="216.13" cy="326.58" r="2.3" fill="#008000"/>
<circle cx="221.03" cy="326.45" r="2.3" fill="#008000"/>
<circle cx="225.92" cy="326.18" r="2.3" fill="#008000"/>
<circle cx="230.82" cy="326.84" r="2.3" fill="#008000"/>
<circle cx="235.71" cy="325.92" r="2.3" fill="#008000"/>
<circle cx="240.61" cy="325.26" r="2.3" fill="#008000"/>
<circle cx="245.5" cy="325.13" r="2.3" fill="#008000"/>
<circle cx="250.4" cy="325.53" r="2.3" fill="#008000"/>
<circle cx="255.29" cy="324.34" r="2.3" fill="#008000"/>
<circle cx="260.19" cy="325.53" r="2.3" fill="#008000"/>
<circle cx="265.08" cy="326.84" r="2.3" fill="#008000"/>
<circle cx="269.98" cy="326.58" r="2.3" fill="#008000"/>
<circle cx="54.6" cy="456.99" r="2.3" fill="#000"/>
<circle cx="59.5" cy="456.99" r="2.3" fill="#000"/>
<circle cx="64.39" cy="456.99" r="2.3" fill="#000"/>
<circle cx="69.28" cy="456.99" r="2.3" fill="#000"/>
<circle cx="74.18" cy="456.99" r="2.3" fill="#000"/>
<circle cx="79.08" cy="456.99" r="2.3" fill="#000"/>
<circle cx="83.97" cy="456.99" r="2.3" fill="#000"/>
<circle cx="88.87" cy="454.23" r="2.3" fill="#000"/>
<circle cx="93.76" cy="450.68" r="2.3" fill="#000"/>
<circle cx="98.66" cy="441.73" r="2.3" fill="#000"/>
<circle cx="103.55" cy="430.02" r="2.3" fill="#000"/>
<circle cx="108.44" cy="418.3" r="2.3" fill="#000"/>
<circle cx="113.34" cy="406.99" r="2.3" fill="#000"/>
<circle cx="118.23" cy="398.96" r="2.3" fill="#000"/>
<circle cx="123.13" cy="390.4" r="2.3" fill="#000"/>
<circle cx="128.03" cy="383.17" r="2.3" fill="#000"/>
<circle cx="132.92" cy="377.51" r="2.3" fill="#000"/>
<circle cx="137.81" cy="370.27" r="2.3" fill="#000"/>
<circle cx="142.71" cy="365.66" r="2.3" fill="#000"/>
<circle cx="147.6" cy="360.27" r="2.3" fill="#000"/>
<circle cx="152.5" cy="354.87" r="2.3" fill="#000"/>
<circle cx="157.39" cy="350.14" r="2.3" fill="#000"/>
<circle cx="162.29" cy="345.66" r="2.3" fill="#000"/>
<circle cx="167.19" cy="343.69" r="2.3" fill="#000"/>
<circle cx="172.08" cy="341.05" r="2.3" fill="#000"/>
<circle cx="176.97" cy="338.55" r="2.3" fill="#000"/>
<circle cx="181.87" cy="337.5" r="2.3" fill="#000"/>
<circle cx="186.76" cy="337.37" r="2.3" fill="#000"/>
<circle cx="191.66" cy="334.74" r="2.3" fill="#000"/>
<circle cx="196.55" cy="334.34" r="2.3" fill="#000"/>
<circle cx="201.45" cy="334.34" r="2.3" fill="#000"/>
<circle cx="206.34" cy="333.95" r="2.3" fill="#000"/>
<circle cx="211.24" cy="332.76" r="2.3" fill="#000"/>
<circle cx="216.13" cy="333.03" r="2.3" fill="#000"/>
<circle cx="221.03" cy="331.18" r="2.3" fill="#000"/>
<circle cx="225.92" cy="330.53" r="2.3" fill="#000"/>
<circle cx="230.82" cy="331.84" r="2.3" fill="#000"/>
<circle cx="235.71" cy="330.53" r="2.3" fill="#000"/>
<circle cx="240.61" cy="329.34" r="2.3" fill="#000"/>
<circle cx="245.5" cy="329.74" r="2.3" fill="#000"/>
<circle cx="250.4" cy="329.08" r="2.3" fill="#000"/>
<circle cx="255.29" cy="330.79" r="2.3" fill="#000"/>
<circle cx="260.19" cy="327.89" r="2.3" fill="#000"/>
<circle cx="265.08" cy="327.5" r="2.3" fill="#000"/>
<circle cx="269.98" cy="329.34" r="2.3" fill="#000"/>
<path d="M98.75,316.9 L100.05,313.3 L214.45,313.3 L215.75,316.9" stroke="#444" stroke-width="1.1" fill="none" stroke-linejoin="round"/>
<line x1="157.3" y1="313.3" x2="157.3" y2="310.8" stroke="#444" stroke-width="1.1"/>
<path d="M156.8,304.1 L156.8,301.3 M156.8,304.1 L159.46,303.23 M156.8,304.1 L158.45,306.37 M156.8,304.1 L155.15,306.37 M156.8,304.1 L154.14,303.23 " stroke="#111" stroke-width="1.5" stroke-linecap="round" fill="none"/>
<text x="145.6" y="297.1" font-size="7.8" text-anchor="start" fill="#202020" stroke="#202020" stroke-width="0.06" textLength="45.7" lengthAdjust="spacingAndGlyphs">p &lt; 0.05, t-test</text>
<path d="M156.1,374.6 L156.1,371.8 M156.1,374.6 L158.76,373.73 M156.1,374.6 L157.75,376.87 M156.1,374.6 L154.45,376.87 M156.1,374.6 L153.44,373.73 " stroke="#111" stroke-width="1.5" stroke-linecap="round" fill="none"/>
<text x="173.1" y="382" font-size="8.1" text-anchor="start" fill="#202020" stroke="#202020" stroke-width="0.06" textLength="32.7" lengthAdjust="spacingAndGlyphs">p &lt; 0.0001</text>
<text x="154.6" y="390.9" font-size="7.7" text-anchor="start" fill="#202020" stroke="#202020" stroke-width="0.06" textLength="67.6" lengthAdjust="spacingAndGlyphs">non-linear regression</text>
<circle cx="188.9" cy="435.1" r="1.8" fill="#008000"/>
<circle cx="188.9" cy="449.2" r="1.9" fill="#000"/>
<text x="203.5" y="438.6" font-size="10.8" text-anchor="start" fill="#222" textLength="63.4" lengthAdjust="spacingAndGlyphs">ClC-1 inhibitor</text>
<text x="204.5" y="451.8" font-size="10.8" text-anchor="start" fill="#222" textLength="35.8" lengthAdjust="spacingAndGlyphs">Placebo</text>
<text x="310.4" y="9.6" font-size="12" text-anchor="start" fill="#111" font-weight="bold">B</text>
<text x="334" y="9.7" font-size="13" text-anchor="start" fill="#222" textLength="81" lengthAdjust="spacingAndGlyphs">Cisatracurium</text>
<line x1="317.2" y1="192.5" x2="317.2" y2="31.7" stroke="#111" stroke-width="1.4"/>
<line x1="309.9" y1="191.9" x2="317.2" y2="191.9" stroke="#111" stroke-width="1.4"/>
<text x="307" y="197.4" font-size="10.6" text-anchor="end" fill="#222">0</text>
<line x1="313.3" y1="181.26" x2="317.2" y2="181.26" stroke="#111" stroke-width="1.4"/>
<line x1="313.3" y1="170.62" x2="317.2" y2="170.62" stroke="#111" stroke-width="1.4"/>
<line x1="313.3" y1="159.98" x2="317.2" y2="159.98" stroke="#111" stroke-width="1.4"/>
<line x1="313.3" y1="149.34" x2="317.2" y2="149.34" stroke="#111" stroke-width="1.4"/>
<line x1="309.9" y1="138.7" x2="317.2" y2="138.7" stroke="#111" stroke-width="1.4"/>
<text x="306.4" y="144.2" font-size="10.6" text-anchor="end" fill="#222">10</text>
<line x1="313.3" y1="128.06" x2="317.2" y2="128.06" stroke="#111" stroke-width="1.4"/>
<line x1="313.3" y1="117.42" x2="317.2" y2="117.42" stroke="#111" stroke-width="1.4"/>
<line x1="313.3" y1="106.78" x2="317.2" y2="106.78" stroke="#111" stroke-width="1.4"/>
<line x1="313.3" y1="96.14" x2="317.2" y2="96.14" stroke="#111" stroke-width="1.4"/>
<line x1="309.9" y1="85.5" x2="317.2" y2="85.5" stroke="#111" stroke-width="1.4"/>
<text x="306.4" y="91" font-size="10.6" text-anchor="end" fill="#222">20</text>
<line x1="313.3" y1="74.86" x2="317.2" y2="74.86" stroke="#111" stroke-width="1.4"/>
<line x1="313.3" y1="64.22" x2="317.2" y2="64.22" stroke="#111" stroke-width="1.4"/>
<line x1="313.3" y1="53.58" x2="317.2" y2="53.58" stroke="#111" stroke-width="1.4"/>
<line x1="313.3" y1="42.94" x2="317.2" y2="42.94" stroke="#111" stroke-width="1.4"/>
<line x1="309.9" y1="32.3" x2="317.2" y2="32.3" stroke="#111" stroke-width="1.4"/>
<text x="307.3" y="37.8" font-size="10.6" text-anchor="end" fill="#222">30</text>
<rect x="380.8" y="129" width="27.5" height="62.9" fill="#008000"/>
<rect x="338.6" y="105" width="25.6" height="86.3" fill="#fff" stroke="#111" stroke-width="1.35"/>
<line x1="351.3" y1="97.6" x2="351.3" y2="111.2" stroke="#888" stroke-width="1.0"/>
<line x1="344" y1="97.6" x2="358.6" y2="97.6" stroke="#b8b8b8" stroke-width="1.5"/>
<line x1="344" y1="111.2" x2="358.6" y2="111.2" stroke="#bbb" stroke-width="1.3"/>
<line x1="394.4" y1="123.1" x2="394.4" y2="129" stroke="#5ab55a" stroke-width="1.0"/>
<line x1="392.2" y1="123.1" x2="396.6" y2="123.1" stroke="#5ab55a" stroke-width="1.0"/>
<circle cx="351.1" cy="58.5" r="2.7" fill="#000"/>
<circle cx="347.2" cy="77.2" r="2.7" fill="#000"/>
<circle cx="355.2" cy="75" r="2.7" fill="#000"/>
<circle cx="347.2" cy="88.3" r="2.7" fill="#000"/>
<circle cx="355.2" cy="85.4" r="2.7" fill="#000"/>
<circle cx="347.2" cy="101.4" r="2.7" fill="#000"/>
<circle cx="355.2" cy="101.4" r="2.7" fill="#000"/>
<circle cx="347.2" cy="109.5" r="2.7" fill="#000"/>
<circle cx="355.2" cy="109.5" r="2.7" fill="#000"/>
<circle cx="339.7" cy="114.6" r="2.7" fill="#000"/>
<circle cx="347.2" cy="114.6" r="2.7" fill="#000"/>
<circle cx="355.2" cy="114.6" r="2.7" fill="#000"/>
<circle cx="363" cy="114.6" r="2.7" fill="#000"/>
<circle cx="347.2" cy="122.8" r="2.7" fill="#000"/>
<circle cx="355.2" cy="125.2" r="2.7" fill="#000"/>
<circle cx="351.1" cy="133.3" r="2.7" fill="#000"/>
<circle cx="388.9" cy="112.3" r="2.7" fill="#000"/>
<circle cx="399.7" cy="114.8" r="2.7" fill="#000"/>
<circle cx="388.9" cy="123.1" r="2.7" fill="#000"/>
<circle cx="399.7" cy="123.1" r="2.7" fill="#000"/>
<circle cx="394.2" cy="135.6" r="2.7" fill="#000"/>
<circle cx="394.2" cy="144.1" r="2.7" fill="#000"/>
<circle cx="394.2" cy="152.1" r="2.7" fill="#000"/>
<text x="289.6" y="181.2" font-size="13" text-anchor="start" fill="#222" textLength="142.5" lengthAdjust="spacingAndGlyphs" transform="rotate(-90 289.6 181.2)">Time to TOFR 90% (min)</text>
<path d="M351.2,53.9 L351.2,51.61 Q351.2,51.6 351.21,51.6 L392.59,51.6 Q392.6,51.6 392.6,51.61 L392.6,53.9" stroke="#444" stroke-width="1.0" fill="none"/>
<line x1="371.9" y1="51.6" x2="371.9" y2="48.8" stroke="#444" stroke-width="1.0"/>
<path d="M371.9,40.5 L371.9,37.7 M371.9,40.5 L374.56,39.63 M371.9,40.5 L373.55,42.77 M371.9,40.5 L370.25,42.77 M371.9,40.5 L369.24,39.63 " stroke="#111" stroke-width="1.5" stroke-linecap="round" fill="none"/>
<text x="356.6" y="34.8" font-size="7.8" text-anchor="start" fill="#202020" stroke="#202020" stroke-width="0.06" textLength="53.7" lengthAdjust="spacingAndGlyphs">p = 0.0066, t-test</text>
<text x="344" y="203.6" font-size="10.5" text-anchor="start" fill="#222" textLength="38.5" lengthAdjust="spacingAndGlyphs" transform="rotate(45 344 203.6)">Placebo</text>
<text x="386.1" y="202.1" font-size="10.8" text-anchor="start" fill="#222" textLength="68.5" lengthAdjust="spacingAndGlyphs" transform="rotate(45 386.1 202.1)">ClC-1 inhibitor</text>
<text x="289" y="282.7" font-size="11.5" text-anchor="start" fill="#111" font-weight="bold">E</text>
<text x="338.2" y="282.8" font-size="13" text-anchor="start" fill="#222" textLength="70.7" lengthAdjust="spacingAndGlyphs">Rocuronium</text>
<line x1="324.4" y1="463.5" x2="324.4" y2="303.7" stroke="#3a3a3a" stroke-width="1.4"/>
<line x1="317.1" y1="462.9" x2="324.4" y2="462.9" stroke="#3a3a3a" stroke-width="1.4"/>
<text x="313.4" y="468" font-size="10.0" text-anchor="end" fill="#3a3a3a">0</text>
<line x1="320.5" y1="454.97" x2="324.4" y2="454.97" stroke="#3a3a3a" stroke-width="1.4"/>
<line x1="320.5" y1="447.04" x2="324.4" y2="447.04" stroke="#3a3a3a" stroke-width="1.4"/>
<line x1="320.5" y1="439.11" x2="324.4" y2="439.11" stroke="#3a3a3a" stroke-width="1.4"/>
<line x1="320.5" y1="431.18" x2="324.4" y2="431.18" stroke="#3a3a3a" stroke-width="1.4"/>
<line x1="317.1" y1="423.25" x2="324.4" y2="423.25" stroke="#3a3a3a" stroke-width="1.4"/>
<text x="313.9" y="428.35" font-size="10.0" text-anchor="end" fill="#3a3a3a">5</text>
<line x1="320.5" y1="415.32" x2="324.4" y2="415.32" stroke="#3a3a3a" stroke-width="1.4"/>
<line x1="320.5" y1="407.39" x2="324.4" y2="407.39" stroke="#3a3a3a" stroke-width="1.4"/>
<line x1="320.5" y1="399.46" x2="324.4" y2="399.46" stroke="#3a3a3a" stroke-width="1.4"/>
<line x1="320.5" y1="391.53" x2="324.4" y2="391.53" stroke="#3a3a3a" stroke-width="1.4"/>
<line x1="317.1" y1="383.6" x2="324.4" y2="383.6" stroke="#3a3a3a" stroke-width="1.4"/>
<text x="313.9" y="388.7" font-size="10.0" text-anchor="end" fill="#3a3a3a">10</text>
<line x1="320.5" y1="375.67" x2="324.4" y2="375.67" stroke="#3a3a3a" stroke-width="1.4"/>
<line x1="320.5" y1="367.74" x2="324.4" y2="367.74" stroke="#3a3a3a" stroke-width="1.4"/>
<line x1="320.5" y1="359.81" x2="324.4" y2="359.81" stroke="#3a3a3a" stroke-width="1.4"/>
<line x1="320.5" y1="351.88" x2="324.4" y2="351.88" stroke="#3a3a3a" stroke-width="1.4"/>
<line x1="317.1" y1="343.95" x2="324.4" y2="343.95" stroke="#3a3a3a" stroke-width="1.4"/>
<text x="313.9" y="349.05" font-size="10.0" text-anchor="end" fill="#3a3a3a">15</text>
<line x1="320.5" y1="336.02" x2="324.4" y2="336.02" stroke="#3a3a3a" stroke-width="1.4"/>
<line x1="320.5" y1="328.09" x2="324.4" y2="328.09" stroke="#3a3a3a" stroke-width="1.4"/>
<line x1="320.5" y1="320.16" x2="324.4" y2="320.16" stroke="#3a3a3a" stroke-width="1.4"/>
<line x1="320.5" y1="312.23" x2="324.4" y2="312.23" stroke="#3a3a3a" stroke-width="1.4"/>
<line x1="317.1" y1="304.3" x2="324.4" y2="304.3" stroke="#3a3a3a" stroke-width="1.4"/>
<text x="313.9" y="309.4" font-size="10.0" text-anchor="end" fill="#3a3a3a">20</text>
<rect x="382.1" y="408.4" width="27" height="54.5" fill="#008000"/>
<rect x="340" y="369.2" width="25.2" height="93.1" fill="#fff" stroke="#111" stroke-width="1.35"/>
<line x1="352.6" y1="357.2" x2="352.6" y2="375.8" stroke="#888" stroke-width="1.0"/>
<line x1="345.8" y1="357.2" x2="359.4" y2="357.2" stroke="#333" stroke-width="1.5"/>
<line x1="345.8" y1="375.8" x2="359.4" y2="375.8" stroke="#bbb" stroke-width="1.3"/>
<line x1="395.6" y1="402.1" x2="395.6" y2="408.4" stroke="#5ab55a" stroke-width="1.0"/>
<line x1="391" y1="402.1" x2="400.2" y2="402.1" stroke="#5ab55a" stroke-width="1.0"/>
<circle cx="352.6" cy="343.6" r="2.45" fill="#000"/>
<circle cx="347.2" cy="351.8" r="2.45" fill="#000"/>
<circle cx="358.1" cy="351.8" r="2.45" fill="#000"/>
<circle cx="352.6" cy="363.7" r="2.45" fill="#000"/>
<circle cx="352.6" cy="383.7" r="2.45" fill="#000"/>
<circle cx="352.6" cy="403.5" r="2.45" fill="#000"/>
<circle cx="390.1" cy="399.6" r="2.45" fill="#000"/>
<circle cx="400.6" cy="395.6" r="2.45" fill="#000"/>
<circle cx="390.1" cy="419.5" r="2.45" fill="#000"/>
<circle cx="400.6" cy="419.5" r="2.45" fill="#000"/>
<text x="296.3" y="458.8" font-size="13" text-anchor="start" fill="#222" textLength="143.5" lengthAdjust="spacingAndGlyphs" transform="rotate(-90 296.3 458.8)">Time to TOFR 90% (min)</text>
<path d="M351.2,325.5 L351.2,323.21 Q351.2,323.2 351.21,323.2 L390.39,323.2 Q390.4,323.2 390.4,323.21 L390.4,325.5" stroke="#444" stroke-width="1.0" fill="none"/>
<line x1="370.4" y1="323.2" x2="370.4" y2="320.7" stroke="#444" stroke-width="1.0"/>
<path d="M370.4,312.9 L370.4,310.1 M370.4,312.9 L373.06,312.03 M370.4,312.9 L372.05,315.17 M370.4,312.9 L368.75,315.17 M370.4,312.9 L367.74,312.03 " stroke="#111" stroke-width="1.5" stroke-linecap="round" fill="none"/>
<text x="357.6" y="304" font-size="7.8" text-anchor="start" fill="#202020" stroke="#202020" stroke-width="0.06" textLength="53.6" lengthAdjust="spacingAndGlyphs">p = 0.0108, t-test</text>
<text x="346.3" y="477.4" font-size="12" text-anchor="start" fill="#222" textLength="44" lengthAdjust="spacingAndGlyphs" transform="rotate(45 346.3 477.4)">Placebo</text>
<text x="390.6" y="474.8" font-size="12" text-anchor="start" fill="#222" textLength="77" lengthAdjust="spacingAndGlyphs" transform="rotate(45 390.6 474.8)">ClC-1 inhibitor</text>
<text x="460" y="9.8" font-size="12" text-anchor="start" fill="#111" font-weight="bold">C</text>
<text x="544.1" y="9.7" font-size="13" text-anchor="start" fill="#222" textLength="81.8" lengthAdjust="spacingAndGlyphs">Cisatracurium</text>
<line x1="476" y1="178.6" x2="476" y2="29.4" stroke="#111" stroke-width="1.4"/>
<line x1="471.9" y1="178" x2="476" y2="178" stroke="#111" stroke-width="1.4"/>
<text x="469" y="183.2" font-size="10.4" text-anchor="end" fill="#222">0</text>
<line x1="473.8" y1="165.67" x2="476" y2="165.67" stroke="#111" stroke-width="1.4"/>
<line x1="471.9" y1="153.33" x2="476" y2="153.33" stroke="#111" stroke-width="1.4"/>
<text x="468.9" y="158.53" font-size="10.4" text-anchor="end" fill="#222">20</text>
<line x1="473.8" y1="141" x2="476" y2="141" stroke="#111" stroke-width="1.4"/>
<line x1="471.9" y1="128.67" x2="476" y2="128.67" stroke="#111" stroke-width="1.4"/>
<text x="468.9" y="133.87" font-size="10.4" text-anchor="end" fill="#222">40</text>
<line x1="473.8" y1="116.33" x2="476" y2="116.33" stroke="#111" stroke-width="1.4"/>
<line x1="471.9" y1="104" x2="476" y2="104" stroke="#111" stroke-width="1.4"/>
<text x="468.9" y="109.2" font-size="10.4" text-anchor="end" fill="#222">60</text>
<line x1="473.8" y1="91.67" x2="476" y2="91.67" stroke="#111" stroke-width="1.4"/>
<line x1="471.9" y1="79.33" x2="476" y2="79.33" stroke="#111" stroke-width="1.4"/>
<text x="468.9" y="84.53" font-size="10.4" text-anchor="end" fill="#222">80</text>
<line x1="473.8" y1="67" x2="476" y2="67" stroke="#111" stroke-width="1.4"/>
<line x1="471.9" y1="54.67" x2="476" y2="54.67" stroke="#111" stroke-width="1.4"/>
<text x="470.3" y="59.87" font-size="10.4" text-anchor="end" fill="#222">100</text>
<line x1="473.8" y1="42.33" x2="476" y2="42.33" stroke="#111" stroke-width="1.4"/>
<line x1="471.9" y1="30" x2="476" y2="30" stroke="#111" stroke-width="1.4"/>
<text x="470.2" y="35.2" font-size="10.4" text-anchor="end" fill="#222">120</text>
<text x="446.6" y="195.5" font-size="13" text-anchor="start" fill="#222" textLength="170" lengthAdjust="spacingAndGlyphs" transform="rotate(-90 446.6 195.5)">Recovery of tetanic force (%)</text>
<line x1="480.2" y1="187.9" x2="679.9" y2="187.9" stroke="#111" stroke-width="1.4"/>
<line x1="480.8" y1="187.9" x2="480.8" y2="193.2" stroke="#111" stroke-width="1.4"/>
<line x1="488.76" y1="187.9" x2="488.76" y2="190.7" stroke="#111" stroke-width="1.4"/>
<line x1="496.71" y1="187.9" x2="496.71" y2="190.7" stroke="#111" stroke-width="1.4"/>
<line x1="504.67" y1="187.9" x2="504.67" y2="190.7" stroke="#111" stroke-width="1.4"/>
<line x1="512.62" y1="187.9" x2="512.62" y2="190.7" stroke="#111" stroke-width="1.4"/>
<line x1="520.58" y1="187.9" x2="520.58" y2="193.2" stroke="#111" stroke-width="1.4"/>
<line x1="528.54" y1="187.9" x2="528.54" y2="190.7" stroke="#111" stroke-width="1.4"/>
<line x1="536.49" y1="187.9" x2="536.49" y2="190.7" stroke="#111" stroke-width="1.4"/>
<line x1="544.45" y1="187.9" x2="544.45" y2="190.7" stroke="#111" stroke-width="1.4"/>
<line x1="552.4" y1="187.9" x2="552.4" y2="190.7" stroke="#111" stroke-width="1.4"/>
<line x1="560.36" y1="187.9" x2="560.36" y2="193.2" stroke="#111" stroke-width="1.4"/>
<line x1="568.32" y1="187.9" x2="568.32" y2="190.7" stroke="#111" stroke-width="1.4"/>
<line x1="576.27" y1="187.9" x2="576.27" y2="190.7" stroke="#111" stroke-width="1.4"/>
<line x1="584.23" y1="187.9" x2="584.23" y2="190.7" stroke="#111" stroke-width="1.4"/>
<line x1="592.18" y1="187.9" x2="592.18" y2="190.7" stroke="#111" stroke-width="1.4"/>
<line x1="600.14" y1="187.9" x2="600.14" y2="193.2" stroke="#111" stroke-width="1.4"/>
<line x1="608.1" y1="187.9" x2="608.1" y2="190.7" stroke="#111" stroke-width="1.4"/>
<line x1="616.05" y1="187.9" x2="616.05" y2="190.7" stroke="#111" stroke-width="1.4"/>
<line x1="624.01" y1="187.9" x2="624.01" y2="190.7" stroke="#111" stroke-width="1.4"/>
<line x1="631.96" y1="187.9" x2="631.96" y2="190.7" stroke="#111" stroke-width="1.4"/>
<line x1="639.92" y1="187.9" x2="639.92" y2="193.2" stroke="#111" stroke-width="1.4"/>
<line x1="647.88" y1="187.9" x2="647.88" y2="190.7" stroke="#111" stroke-width="1.4"/>
<line x1="655.83" y1="187.9" x2="655.83" y2="190.7" stroke="#111" stroke-width="1.4"/>
<line x1="663.79" y1="187.9" x2="663.79" y2="190.7" stroke="#111" stroke-width="1.4"/>
<line x1="671.74" y1="187.9" x2="671.74" y2="190.7" stroke="#111" stroke-width="1.4"/>
<line x1="679.7" y1="187.9" x2="679.7" y2="193.2" stroke="#111" stroke-width="1.4"/>
<text x="480.8" y="204.9" font-size="9.0" text-anchor="middle" fill="#222">0</text>
<text x="520.6" y="204.9" font-size="9.0" text-anchor="middle" fill="#222">5</text>
<text x="560.6" y="204.9" font-size="9.0" text-anchor="middle" fill="#222">10</text>
<text x="600.5" y="204.9" font-size="9.0" text-anchor="middle" fill="#222">15</text>
<text x="640.4" y="204.9" font-size="9.0" text-anchor="middle" fill="#222">20</text>
<text x="680.2" y="204.9" font-size="9.0" text-anchor="middle" fill="#222">25</text>
<text x="547.3" y="220.1" font-size="13" text-anchor="start" fill="#222" textLength="87.5" lengthAdjust="spacingAndGlyphs">Time (minutes)</text>
<path d="M485.49,178 L486.33,178 L487.17,178 L488.01,178 L488.84,178 L489.68,178 L490.52,178 L491.36,178 L492.19,178 L493.03,178 L493.87,178 L494.71,178 L495.54,178 L496.38,178 L497.22,178 L498.06,178 L498.89,178 L499.73,178 L500.57,178 L501.41,178 L502.24,178 L503.08,178 L503.92,178 L504.76,177.99 L505.6,177.99 L506.43,177.99 L507.27,177.99 L508.11,177.99 L508.95,177.98 L509.78,177.98 L510.62,177.98 L511.46,177.97 L512.3,177.96 L513.13,177.96 L513.97,177.95 L514.81,177.94 L515.65,177.93 L516.48,177.91 L517.32,177.9 L518.16,177.88 L519,177.86 L519.83,177.84 L520.67,177.81 L521.51,177.78 L522.35,177.75 L523.18,177.72 L524.02,177.68 L524.86,177.63 L525.7,177.58 L526.53,177.52 L527.37,177.46 L528.21,177.39 L529.05,177.32 L529.88,177.24 L530.72,177.15 L531.56,177.05 L532.4,176.94 L533.23,176.82 L534.07,176.69 L534.91,176.54 L535.75,176.39 L536.58,176.22 L537.42,176.04 L538.26,175.84 L539.1,175.63 L539.93,175.4 L540.77,175.15 L541.61,174.89 L542.45,174.6 L543.28,174.3 L544.12,173.97 L544.96,173.62 L545.8,173.24 L546.63,172.84 L547.47,172.42 L548.31,171.96 L549.15,171.48 L549.98,170.97 L550.82,170.43 L551.66,169.86 L552.5,169.26 L553.34,168.62 L554.17,167.95 L555.01,167.24 L555.85,166.5 L556.69,165.72 L557.52,164.91 L558.36,164.06 L559.2,163.17 L560.04,162.24 L560.87,161.27 L561.71,160.27 L562.55,159.22 L563.39,158.14 L564.22,157.02 L565.06,155.87 L565.9,154.67 L566.74,153.44 L567.57,152.18 L568.41,150.88 L569.25,149.54 L570.09,148.18 L570.92,146.78 L571.76,145.35 L572.6,143.9 L573.44,142.42 L574.27,140.91 L575.11,139.39 L575.95,137.84 L576.79,136.27 L577.62,134.69 L578.46,133.1 L579.3,131.49 L580.14,129.87 L580.97,128.25 L581.81,126.62 L582.65,124.99 L583.49,123.35 L584.32,121.72 L585.16,120.09 L586,118.47 L586.84,116.86 L587.67,115.26 L588.51,113.66 L589.35,112.09 L590.19,110.52 L591.02,108.98 L591.86,107.45 L592.7,105.94 L593.54,104.45 L594.37,102.99 L595.21,101.55 L596.05,100.13 L596.89,98.73 L597.72,97.37 L598.56,96.03 L599.4,94.71 L600.24,93.43 L601.08,92.17 L601.91,90.94 L602.75,89.74 L603.59,88.56 L604.43,87.42 L605.26,86.3 L606.1,85.21 L606.94,84.15 L607.78,83.12 L608.61,82.11 L609.45,81.14 L610.29,80.19 L611.13,79.26 L611.96,78.37 L612.8,77.5 L613.64,76.65 L614.48,75.83 L615.31,75.03 L616.15,74.26 L616.99,73.52 L617.83,72.79 L618.66,72.09 L619.5,71.41 L620.34,70.75 L621.18,70.11 L622.01,69.49 L622.85,68.89 L623.69,68.32 L624.53,67.76 L625.36,67.21 L626.2,66.69 L627.04,66.18 L627.88,65.69 L628.71,65.22 L629.55,64.76 L630.39,64.31 L631.23,63.88 L632.06,63.47 L632.9,63.07 L633.74,62.68 L634.58,62.3 L635.41,61.94 L636.25,61.59 L637.09,61.25 L637.93,60.92 L638.76,60.6 L639.6,60.3 L640.44,60 L641.28,59.71 L642.11,59.44 L642.95,59.17 L643.79,58.91 L644.63,58.66 L645.46,58.41 L646.3,58.18 L647.14,57.95 L647.98,57.73 L648.82,57.52 L649.65,57.31 L650.49,57.12 L651.33,56.92 L652.17,56.74 L653,56.56 L653.84,56.38 L654.68,56.21 L655.52,56.05 L656.35,55.89 L657.19,55.74 L658.03,55.59 L658.87,55.45 L659.7,55.31 L660.54,55.17 L661.38,55.04 L662.22,54.92 L663.05,54.8 L663.89,54.68 L664.73,54.56 L665.57,54.45 L666.4,54.34 L667.24,54.24 L668.08,54.14 L668.92,54.04 L669.75,53.94 L670.59,53.85 L671.43,53.76 L672.27,53.67 L673.1,53.59 L673.94,53.51 L674.78,53.43 L675.62,53.35 L676.45,53.28 L677.29,53.21 L678.13,53.14 L678.97,53.07 L679.8,53 L680.64,52.94 L681.48,52.88 L682.32,52.81 L683.15,52.76 L683.99,52.7 L684.83,52.64 L685.67,52.59" stroke="#222" stroke-width="0.9" fill="none"/>
<path d="M485.49,178 L486.33,178 L487.17,178 L488.01,178 L488.84,178 L489.68,178 L490.52,178 L491.36,178 L492.19,178 L493.03,178 L493.87,178 L494.71,178 L495.54,178 L496.38,178 L497.22,178 L498.06,178 L498.89,178 L499.73,178 L500.57,178 L501.41,178 L502.24,178 L503.08,178 L503.92,178 L504.76,178 L505.6,178 L506.43,178 L507.27,178 L508.11,178 L508.95,178 L509.78,178 L510.62,178 L511.46,178 L512.3,178 L513.13,177.99 L513.97,177.99 L514.81,177.98 L515.65,177.97 L516.48,177.95 L517.32,177.92 L518.16,177.89 L519,177.85 L519.83,177.79 L520.67,177.71 L521.51,177.62 L522.35,177.5 L523.18,177.35 L524.02,177.17 L524.86,176.94 L525.7,176.67 L526.53,176.35 L527.37,175.97 L528.21,175.52 L529.05,174.99 L529.88,174.37 L530.72,173.67 L531.56,172.85 L532.4,171.92 L533.23,170.87 L534.07,169.69 L534.91,168.36 L535.75,166.88 L536.58,165.25 L537.42,163.46 L538.26,161.5 L539.1,159.37 L539.93,157.07 L540.77,154.6 L541.61,151.98 L542.45,149.2 L543.28,146.27 L544.12,143.2 L544.96,140.01 L545.8,136.72 L546.63,133.34 L547.47,129.88 L548.31,126.38 L549.15,122.84 L549.98,119.28 L550.82,115.73 L551.66,112.21 L552.5,108.72 L553.34,105.29 L554.17,101.93 L555.01,98.65 L555.85,95.47 L556.69,92.39 L557.52,89.41 L558.36,86.56 L559.2,83.81 L560.04,81.19 L560.87,78.69 L561.71,76.32 L562.55,74.06 L563.39,71.92 L564.22,69.89 L565.06,67.98 L565.9,66.17 L566.74,64.47 L567.57,62.87 L568.41,61.36 L569.25,59.94 L570.09,58.61 L570.92,57.37 L571.76,56.19 L572.6,55.09 L573.44,54.06 L574.27,53.1 L575.11,52.19 L575.95,51.35 L576.79,50.55 L577.62,49.81 L578.46,49.11 L579.3,48.45 L580.14,47.84 L580.97,47.27 L581.81,46.73 L582.65,46.22 L583.49,45.75 L584.32,45.3 L585.16,44.88 L586,44.49 L586.84,44.12 L587.67,43.77 L588.51,43.45 L589.35,43.14 L590.19,42.85 L591.02,42.58 L591.86,42.33 L592.7,42.09 L593.54,41.86 L594.37,41.65 L595.21,41.45 L596.05,41.26 L596.89,41.08 L597.72,40.91 L598.56,40.75 L599.4,40.6 L600.24,40.46 L601.08,40.32 L601.91,40.19 L602.75,40.07 L603.59,39.96 L604.43,39.85 L605.26,39.75 L606.1,39.65 L606.94,39.56 L607.78,39.47 L608.61,39.39 L609.45,39.31 L610.29,39.24 L611.13,39.17 L611.96,39.1 L612.8,39.03 L613.64,38.97 L614.48,38.92 L615.31,38.86 L616.15,38.81 L616.99,38.76 L617.83,38.71 L618.66,38.67 L619.5,38.62 L620.34,38.58 L621.18,38.54 L622.01,38.5 L622.85,38.47 L623.69,38.43 L624.53,38.4 L625.36,38.37 L626.2,38.34 L627.04,38.31 L627.88,38.29 L628.71,38.26 L629.55,38.23 L630.39,38.21 L631.23,38.19 L632.06,38.17 L632.9,38.15 L633.74,38.13 L634.58,38.11 L635.41,38.09 L636.25,38.07 L637.09,38.05 L637.93,38.04 L638.76,38.02 L639.6,38.01 L640.44,37.99 L641.28,37.98 L642.11,37.97 L642.95,37.95 L643.79,37.94 L644.63,37.93 L645.46,37.92 L646.3,37.91 L647.14,37.9 L647.98,37.89 L648.82,37.88 L649.65,37.87 L650.49,37.86 L651.33,37.85 L652.17,37.84 L653,37.83 L653.84,37.83 L654.68,37.82 L655.52,37.81 L656.35,37.81 L657.19,37.8 L658.03,37.79 L658.87,37.79 L659.7,37.78 L660.54,37.77 L661.38,37.77 L662.22,37.76 L663.05,37.76 L663.89,37.75 L664.73,37.75 L665.57,37.74 L666.4,37.74 L667.24,37.74 L668.08,37.73 L668.92,37.73 L669.75,37.72 L670.59,37.72 L671.43,37.72 L672.27,37.71 L673.1,37.71 L673.94,37.71 L674.78,37.7 L675.62,37.7 L676.45,37.7 L677.29,37.69 L678.13,37.69 L678.97,37.69 L679.8,37.69 L680.64,37.68 L681.48,37.68 L682.32,37.68 L683.15,37.68 L683.99,37.67 L684.83,37.67 L685.67,37.67" stroke="#3aa83a" stroke-width="0.9" fill="none"/>
<line x1="569.35" y1="147.91" x2="569.35" y2="150.37" stroke="#3a3a3a" stroke-width="0.8"/>
<line x1="566.85" y1="147.91" x2="571.85" y2="147.91" stroke="#3a3a3a" stroke-width="0.8"/>
<line x1="566.85" y1="150.37" x2="571.85" y2="150.37" stroke="#3a3a3a" stroke-width="0.8"/>
<line x1="617.32" y1="69.84" x2="617.32" y2="76.25" stroke="#3a3a3a" stroke-width="0.8"/>
<line x1="614.82" y1="69.84" x2="619.82" y2="69.84" stroke="#3a3a3a" stroke-width="0.8"/>
<line x1="614.82" y1="76.25" x2="619.82" y2="76.25" stroke="#3a3a3a" stroke-width="0.8"/>
<line x1="657.42" y1="55.16" x2="657.42" y2="57.14" stroke="#3a3a3a" stroke-width="0.8"/>
<line x1="654.92" y1="55.16" x2="659.92" y2="55.16" stroke="#3a3a3a" stroke-width="0.8"/>
<line x1="654.92" y1="57.14" x2="659.92" y2="57.14" stroke="#3a3a3a" stroke-width="0.8"/>
<line x1="553.36" y1="86.74" x2="553.36" y2="123.98" stroke="#3aa83a" stroke-width="0.8"/>
<line x1="550.86" y1="86.74" x2="555.86" y2="86.74" stroke="#3aa83a" stroke-width="0.8"/>
<line x1="550.86" y1="123.98" x2="555.86" y2="123.98" stroke="#3aa83a" stroke-width="0.8"/>
<line x1="585.42" y1="38.39" x2="585.42" y2="49" stroke="#3aa83a" stroke-width="0.8"/>
<line x1="582.92" y1="38.39" x2="587.92" y2="38.39" stroke="#3aa83a" stroke-width="0.8"/>
<line x1="582.92" y1="49" x2="587.92" y2="49" stroke="#3aa83a" stroke-width="0.8"/>
<line x1="625.36" y1="32.35" x2="625.36" y2="40.24" stroke="#3aa83a" stroke-width="0.8"/>
<line x1="622.86" y1="32.35" x2="627.86" y2="32.35" stroke="#3aa83a" stroke-width="0.8"/>
<line x1="622.86" y1="40.24" x2="627.86" y2="40.24" stroke="#3aa83a" stroke-width="0.8"/>
<line x1="665.38" y1="34.81" x2="665.38" y2="40.24" stroke="#3aa83a" stroke-width="0.8"/>
<line x1="662.88" y1="34.81" x2="667.88" y2="34.81" stroke="#3aa83a" stroke-width="0.8"/>
<line x1="662.88" y1="40.24" x2="667.88" y2="40.24" stroke="#3aa83a" stroke-width="0.8"/>
<circle cx="569.35" cy="149.14" r="2.6" fill="#000"/>
<circle cx="617.32" cy="73.05" r="2.6" fill="#000"/>
<circle cx="657.42" cy="56.15" r="2.6" fill="#000"/>
<circle cx="485.49" cy="178" r="2.6" fill="#008000"/>
<circle cx="553.36" cy="105.36" r="2.6" fill="#008000"/>
<circle cx="585.42" cy="43.69" r="2.6" fill="#008000"/>
<circle cx="625.36" cy="36.29" r="2.6" fill="#008000"/>
<circle cx="665.38" cy="37.53" r="2.6" fill="#008000"/>
<path d="M559.8,100.6 L559.8,97.01 Q559.8,97 559.81,97 L588.49,97 Q588.5,97 588.5,97.01 L588.5,100.6" stroke="#666" stroke-width="1.3" fill="none"/>
<line x1="574.4" y1="97" x2="574.4" y2="93.4" stroke="#666" stroke-width="1.3"/>
<path d="M575,85.5 L575,82.7 M575,85.5 L577.66,84.63 M575,85.5 L576.65,87.77 M575,85.5 L573.35,87.77 M575,85.5 L572.34,84.63 " stroke="#111" stroke-width="1.5" stroke-linecap="round" fill="none"/>
<text x="618.6" y="100.4" font-size="7.8" text-anchor="start" fill="#202020" stroke="#202020" stroke-width="0.06" textLength="35.2" lengthAdjust="spacingAndGlyphs">p &lt; 0.0001,</text>
<text x="600.8" y="109.7" font-size="7.7" text-anchor="start" fill="#202020" stroke="#202020" stroke-width="0.06" textLength="67.8" lengthAdjust="spacingAndGlyphs">non-linear regression</text>
<circle cx="623.6" cy="163.2" r="2.4" fill="#008000"/>
<circle cx="623.6" cy="174.8" r="2.2" fill="#000"/>
<text x="631.4" y="166.7" font-size="10.6" text-anchor="start" fill="#222" textLength="66.8" lengthAdjust="spacingAndGlyphs">ClC-1 inhibitor</text>
<text x="631.4" y="178.6" font-size="10.6" text-anchor="start" fill="#222" textLength="37.6" lengthAdjust="spacingAndGlyphs">Placebo</text>
<text x="464" y="282.7" font-size="11.5" text-anchor="start" fill="#111" font-weight="bold">F</text>
<text x="534" y="282.9" font-size="13" text-anchor="start" fill="#222" textLength="71" lengthAdjust="spacingAndGlyphs">Rocuronium</text>
<line x1="471.6" y1="451.8" x2="471.6" y2="303.4" stroke="#111" stroke-width="1.4"/>
<line x1="465.8" y1="451.2" x2="471.6" y2="451.2" stroke="#111" stroke-width="1.4"/>
<text x="461.2" y="456.25" font-size="10.2" text-anchor="end" fill="#222">0</text>
<line x1="469" y1="438.93" x2="471.6" y2="438.93" stroke="#111" stroke-width="1.4"/>
<line x1="465.8" y1="426.67" x2="471.6" y2="426.67" stroke="#111" stroke-width="1.4"/>
<text x="463.1" y="431.72" font-size="10.2" text-anchor="end" fill="#222">20</text>
<line x1="469" y1="414.4" x2="471.6" y2="414.4" stroke="#111" stroke-width="1.4"/>
<line x1="465.8" y1="402.13" x2="471.6" y2="402.13" stroke="#111" stroke-width="1.4"/>
<text x="463.1" y="407.18" font-size="10.2" text-anchor="end" fill="#222">40</text>
<line x1="469" y1="389.87" x2="471.6" y2="389.87" stroke="#111" stroke-width="1.4"/>
<line x1="465.8" y1="377.6" x2="471.6" y2="377.6" stroke="#111" stroke-width="1.4"/>
<text x="463.1" y="382.65" font-size="10.2" text-anchor="end" fill="#222">60</text>
<line x1="469" y1="365.33" x2="471.6" y2="365.33" stroke="#111" stroke-width="1.4"/>
<line x1="465.8" y1="353.07" x2="471.6" y2="353.07" stroke="#111" stroke-width="1.4"/>
<text x="463.1" y="358.12" font-size="10.2" text-anchor="end" fill="#222">80</text>
<line x1="469" y1="340.8" x2="471.6" y2="340.8" stroke="#111" stroke-width="1.4"/>
<line x1="465.8" y1="328.53" x2="471.6" y2="328.53" stroke="#111" stroke-width="1.4"/>
<text x="463.2" y="333.58" font-size="10.2" text-anchor="end" fill="#222">100</text>
<line x1="469" y1="316.27" x2="471.6" y2="316.27" stroke="#111" stroke-width="1.4"/>
<line x1="465.8" y1="304" x2="471.6" y2="304" stroke="#111" stroke-width="1.4"/>
<text x="461.8" y="309.05" font-size="10.2" text-anchor="end" fill="#222">120</text>
<text x="438.3" y="471.2" font-size="13" text-anchor="start" fill="#222" textLength="174" lengthAdjust="spacingAndGlyphs" transform="rotate(-90 438.3 471.2)">Recovery of tetanic force (%)</text>
<line x1="476.6" y1="462.4" x2="691.2" y2="462.4" stroke="#111" stroke-width="1.4"/>
<line x1="477.2" y1="462.4" x2="477.2" y2="468" stroke="#111" stroke-width="1.4"/>
<line x1="485.76" y1="462.4" x2="485.76" y2="465.5" stroke="#111" stroke-width="1.4"/>
<line x1="494.32" y1="462.4" x2="494.32" y2="465.5" stroke="#111" stroke-width="1.4"/>
<line x1="502.88" y1="462.4" x2="502.88" y2="465.5" stroke="#111" stroke-width="1.4"/>
<line x1="511.44" y1="462.4" x2="511.44" y2="465.5" stroke="#111" stroke-width="1.4"/>
<line x1="520" y1="462.4" x2="520" y2="468" stroke="#111" stroke-width="1.4"/>
<line x1="528.56" y1="462.4" x2="528.56" y2="465.5" stroke="#111" stroke-width="1.4"/>
<line x1="537.12" y1="462.4" x2="537.12" y2="465.5" stroke="#111" stroke-width="1.4"/>
<line x1="545.68" y1="462.4" x2="545.68" y2="465.5" stroke="#111" stroke-width="1.4"/>
<line x1="554.24" y1="462.4" x2="554.24" y2="465.5" stroke="#111" stroke-width="1.4"/>
<line x1="562.8" y1="462.4" x2="562.8" y2="468" stroke="#111" stroke-width="1.4"/>
<line x1="571.36" y1="462.4" x2="571.36" y2="465.5" stroke="#111" stroke-width="1.4"/>
<line x1="579.92" y1="462.4" x2="579.92" y2="465.5" stroke="#111" stroke-width="1.4"/>
<line x1="588.48" y1="462.4" x2="588.48" y2="465.5" stroke="#111" stroke-width="1.4"/>
<line x1="597.04" y1="462.4" x2="597.04" y2="465.5" stroke="#111" stroke-width="1.4"/>
<line x1="605.6" y1="462.4" x2="605.6" y2="468" stroke="#111" stroke-width="1.4"/>
<line x1="614.16" y1="462.4" x2="614.16" y2="465.5" stroke="#111" stroke-width="1.4"/>
<line x1="622.72" y1="462.4" x2="622.72" y2="465.5" stroke="#111" stroke-width="1.4"/>
<line x1="631.28" y1="462.4" x2="631.28" y2="465.5" stroke="#111" stroke-width="1.4"/>
<line x1="639.84" y1="462.4" x2="639.84" y2="465.5" stroke="#111" stroke-width="1.4"/>
<line x1="648.4" y1="462.4" x2="648.4" y2="468" stroke="#111" stroke-width="1.4"/>
<line x1="656.96" y1="462.4" x2="656.96" y2="465.5" stroke="#111" stroke-width="1.4"/>
<line x1="665.52" y1="462.4" x2="665.52" y2="465.5" stroke="#111" stroke-width="1.4"/>
<line x1="674.08" y1="462.4" x2="674.08" y2="465.5" stroke="#111" stroke-width="1.4"/>
<line x1="682.64" y1="462.4" x2="682.64" y2="465.5" stroke="#111" stroke-width="1.4"/>
<line x1="691.2" y1="462.4" x2="691.2" y2="468" stroke="#111" stroke-width="1.4"/>
<text x="477.2" y="478" font-size="9.6" text-anchor="middle" fill="#222">0</text>
<text x="520" y="478" font-size="9.6" text-anchor="middle" fill="#222">5</text>
<text x="563" y="478" font-size="9.6" text-anchor="middle" fill="#222">10</text>
<text x="605.9" y="478" font-size="9.6" text-anchor="middle" fill="#222">15</text>
<text x="648.4" y="478" font-size="9.6" text-anchor="middle" fill="#222">20</text>
<text x="691" y="478" font-size="9.6" text-anchor="middle" fill="#222">25</text>
<text x="545" y="499.4" font-size="13" text-anchor="start" fill="#222" textLength="86.5" lengthAdjust="spacingAndGlyphs">Time (minutes)</text>
<path d="M477.2,452.67 L478.1,452.67 L479,452.67 L479.9,452.67 L480.8,452.67 L481.69,452.67 L482.59,452.67 L483.49,452.67 L484.39,452.67 L485.29,452.67 L486.19,452.67 L487.09,452.67 L487.99,452.67 L488.89,452.67 L489.79,452.67 L490.68,452.67 L491.58,452.67 L492.48,452.67 L493.38,452.67 L494.28,452.67 L495.18,452.67 L496.08,452.67 L496.98,452.67 L497.88,452.67 L498.78,452.67 L499.67,452.67 L500.57,452.67 L501.47,452.67 L502.37,452.66 L503.27,452.66 L504.17,452.65 L505.07,452.63 L505.97,452.61 L506.87,452.58 L507.77,452.54 L508.66,452.48 L509.56,452.41 L510.46,452.31 L511.36,452.19 L512.26,452.04 L513.16,451.86 L514.06,451.64 L514.96,451.37 L515.86,451.06 L516.76,450.69 L517.65,450.26 L518.55,449.76 L519.45,449.19 L520.35,448.54 L521.25,447.8 L522.15,446.97 L523.05,446.03 L523.95,445 L524.85,443.86 L525.74,442.61 L526.64,441.24 L527.54,439.75 L528.44,438.15 L529.34,436.44 L530.24,434.6 L531.14,432.66 L532.04,430.6 L532.94,428.45 L533.84,426.2 L534.73,423.86 L535.63,421.44 L536.53,418.96 L537.43,416.41 L538.33,413.83 L539.23,411.2 L540.13,408.56 L541.03,405.9 L541.93,403.24 L542.83,400.59 L543.72,397.96 L544.62,395.36 L545.52,392.8 L546.42,390.29 L547.32,387.83 L548.22,385.43 L549.12,383.09 L550.02,380.83 L550.92,378.63 L551.82,376.51 L552.71,374.47 L553.61,372.5 L554.51,370.62 L555.41,368.81 L556.31,367.07 L557.21,365.42 L558.11,363.83 L559.01,362.33 L559.91,360.89 L560.81,359.52 L561.7,358.22 L562.6,356.98 L563.5,355.8 L564.4,354.69 L565.3,353.63 L566.2,352.62 L567.1,351.67 L568,350.77 L568.9,349.91 L569.79,349.1 L570.69,348.33 L571.59,347.6 L572.49,346.91 L573.39,346.25 L574.29,345.63 L575.19,345.05 L576.09,344.49 L576.99,343.96 L577.89,343.46 L578.78,342.99 L579.68,342.54 L580.58,342.11 L581.48,341.7 L582.38,341.32 L583.28,340.95 L584.18,340.61 L585.08,340.28 L585.98,339.97 L586.88,339.67 L587.77,339.39 L588.67,339.12 L589.57,338.86 L590.47,338.62 L591.37,338.39 L592.27,338.17 L593.17,337.96 L594.07,337.76 L594.97,337.57 L595.87,337.39 L596.76,337.22 L597.66,337.05 L598.56,336.9 L599.46,336.75 L600.36,336.6 L601.26,336.47 L602.16,336.34 L603.06,336.21 L603.96,336.09 L604.86,335.98 L605.75,335.87 L606.65,335.77 L607.55,335.67 L608.45,335.57 L609.35,335.48 L610.25,335.39 L611.15,335.31 L612.05,335.23 L612.95,335.15 L613.84,335.08 L614.74,335.01 L615.64,334.94 L616.54,334.88 L617.44,334.81 L618.34,334.76 L619.24,334.7 L620.14,334.64 L621.04,334.59 L621.94,334.54 L622.83,334.49 L623.73,334.44 L624.63,334.4 L625.53,334.35 L626.43,334.31 L627.33,334.27 L628.23,334.23 L629.13,334.19 L630.03,334.16 L630.93,334.12 L631.82,334.09 L632.72,334.06 L633.62,334.03 L634.52,334 L635.42,333.97 L636.32,333.94 L637.22,333.91 L638.12,333.89 L639.02,333.86 L639.92,333.84 L640.81,333.81 L641.71,333.79 L642.61,333.77 L643.51,333.75 L644.41,333.73 L645.31,333.71 L646.21,333.69 L647.11,333.67 L648.01,333.65 L648.91,333.64 L649.8,333.62 L650.7,333.6 L651.6,333.59 L652.5,333.57 L653.4,333.56 L654.3,333.54 L655.2,333.53 L656.1,333.52 L657,333.5 L657.89,333.49 L658.79,333.48 L659.69,333.47 L660.59,333.46 L661.49,333.45 L662.39,333.43 L663.29,333.42 L664.19,333.41 L665.09,333.4 L665.99,333.39 L666.88,333.39 L667.78,333.38 L668.68,333.37 L669.58,333.36 L670.48,333.35 L671.38,333.34 L672.28,333.34 L673.18,333.33 L674.08,333.32 L674.98,333.31 L675.87,333.31 L676.77,333.3 L677.67,333.29 L678.57,333.29 L679.47,333.28 L680.37,333.27 L681.27,333.27 L682.17,333.26 L683.07,333.26 L683.97,333.25 L684.86,333.25 L685.76,333.24 L686.66,333.24 L687.56,333.23 L688.46,333.23 L689.36,333.22 L690.26,333.22 L691.16,333.21 L692.06,333.21" stroke="#222" stroke-width="0.9" fill="none"/>
<path d="M477.2,452.62 L478.1,452.56 L479,452.48 L479.9,452.35 L480.8,452.17 L481.69,451.92 L482.59,451.6 L483.49,451.19 L484.39,450.67 L485.29,450.04 L486.19,449.28 L487.09,448.37 L487.99,447.31 L488.89,446.09 L489.79,444.7 L490.68,443.12 L491.58,441.36 L492.48,439.41 L493.38,437.28 L494.28,434.96 L495.18,432.47 L496.08,429.81 L496.98,427 L497.88,424.04 L498.78,420.96 L499.67,417.77 L500.57,414.5 L501.47,411.15 L502.37,407.76 L503.27,404.34 L504.17,400.92 L505.07,397.5 L505.97,394.12 L506.87,390.77 L507.77,387.49 L508.66,384.27 L509.56,381.14 L510.46,378.09 L511.36,375.15 L512.26,372.3 L513.16,369.57 L514.06,366.94 L514.96,364.42 L515.86,362.01 L516.76,359.71 L517.65,357.52 L518.55,355.44 L519.45,353.46 L520.35,351.58 L521.25,349.8 L522.15,348.11 L523.05,346.51 L523.95,345 L524.85,343.56 L525.74,342.21 L526.64,340.93 L527.54,339.72 L528.44,338.58 L529.34,337.5 L530.24,336.48 L531.14,335.52 L532.04,334.61 L532.94,333.75 L533.84,332.93 L534.73,332.17 L535.63,331.44 L536.53,330.75 L537.43,330.1 L538.33,329.49 L539.23,328.91 L540.13,328.35 L541.03,327.83 L541.93,327.34 L542.83,326.87 L543.72,326.43 L544.62,326 L545.52,325.6 L546.42,325.23 L547.32,324.87 L548.22,324.52 L549.12,324.2 L550.02,323.89 L550.92,323.59 L551.82,323.32 L552.71,323.05 L553.61,322.8 L554.51,322.55 L555.41,322.32 L556.31,322.1 L557.21,321.9 L558.11,321.7 L559.01,321.51 L559.91,321.32 L560.81,321.15 L561.7,320.98 L562.6,320.83 L563.5,320.67 L564.4,320.53 L565.3,320.39 L566.2,320.26 L567.1,320.13 L568,320.01 L568.9,319.89 L569.79,319.78 L570.69,319.67 L571.59,319.57 L572.49,319.47 L573.39,319.38 L574.29,319.29 L575.19,319.2 L576.09,319.12 L576.99,319.04 L577.89,318.96 L578.78,318.88 L579.68,318.81 L580.58,318.74 L581.48,318.68 L582.38,318.61 L583.28,318.55 L584.18,318.49 L585.08,318.43 L585.98,318.38 L586.88,318.33 L587.77,318.28 L588.67,318.23 L589.57,318.18 L590.47,318.13 L591.37,318.09 L592.27,318.05 L593.17,318 L594.07,317.96 L594.97,317.93 L595.87,317.89 L596.76,317.85 L597.66,317.82 L598.56,317.78 L599.46,317.75 L600.36,317.72 L601.26,317.69 L602.16,317.66 L603.06,317.63 L603.96,317.6 L604.86,317.58 L605.75,317.55 L606.65,317.53 L607.55,317.5 L608.45,317.48 L609.35,317.45 L610.25,317.43 L611.15,317.41 L612.05,317.39 L612.95,317.37 L613.84,317.35 L614.74,317.33 L615.64,317.31 L616.54,317.29 L617.44,317.28 L618.34,317.26 L619.24,317.24 L620.14,317.23 L621.04,317.21 L621.94,317.2 L622.83,317.18 L623.73,317.17 L624.63,317.15 L625.53,317.14 L626.43,317.13 L627.33,317.11 L628.23,317.1 L629.13,317.09 L630.03,317.08 L630.93,317.06 L631.82,317.05 L632.72,317.04 L633.62,317.03 L634.52,317.02 L635.42,317.01 L636.32,317 L637.22,316.99 L638.12,316.98 L639.02,316.97 L639.92,316.96 L640.81,316.96 L641.71,316.95 L642.61,316.94 L643.51,316.93 L644.41,316.92 L645.31,316.92 L646.21,316.91 L647.11,316.9 L648.01,316.89 L648.91,316.89 L649.8,316.88 L650.7,316.87 L651.6,316.87 L652.5,316.86 L653.4,316.85 L654.3,316.85 L655.2,316.84 L656.1,316.84 L657,316.83 L657.89,316.83 L658.79,316.82 L659.69,316.82 L660.59,316.81 L661.49,316.8 L662.39,316.8 L663.29,316.8 L664.19,316.79 L665.09,316.79 L665.99,316.78 L666.88,316.78 L667.78,316.77 L668.68,316.77 L669.58,316.76 L670.48,316.76 L671.38,316.76 L672.28,316.75 L673.18,316.75 L674.08,316.75 L674.98,316.74 L675.87,316.74 L676.77,316.73 L677.67,316.73 L678.57,316.73 L679.47,316.72 L680.37,316.72 L681.27,316.72 L682.17,316.71 L683.07,316.71 L683.97,316.71 L684.86,316.71 L685.76,316.7 L686.66,316.7 L687.56,316.7 L688.46,316.7 L689.36,316.69 L690.26,316.69 L691.16,316.69 L692.06,316.68" stroke="#1f961f" stroke-width="1.0" fill="none"/>
<line x1="537.12" y1="405.88" x2="537.12" y2="426.21" stroke="#3a3a3a" stroke-width="0.8"/>
<line x1="534.62" y1="405.88" x2="539.62" y2="405.88" stroke="#3a3a3a" stroke-width="0.8"/>
<line x1="534.62" y1="426.21" x2="539.62" y2="426.21" stroke="#3a3a3a" stroke-width="0.8"/>
<line x1="580.26" y1="340.09" x2="580.26" y2="343.28" stroke="#3a3a3a" stroke-width="0.8"/>
<line x1="577.76" y1="340.09" x2="582.76" y2="340.09" stroke="#3a3a3a" stroke-width="0.8"/>
<line x1="577.76" y1="343.28" x2="582.76" y2="343.28" stroke="#3a3a3a" stroke-width="0.8"/>
<line x1="640.18" y1="332.99" x2="640.18" y2="334.21" stroke="#3a3a3a" stroke-width="0.8"/>
<line x1="637.68" y1="332.99" x2="642.68" y2="332.99" stroke="#3a3a3a" stroke-width="0.8"/>
<line x1="637.68" y1="334.21" x2="642.68" y2="334.21" stroke="#3a3a3a" stroke-width="0.8"/>
<line x1="683.32" y1="332.99" x2="683.32" y2="334.21" stroke="#3a3a3a" stroke-width="0.8"/>
<line x1="680.82" y1="332.99" x2="685.82" y2="332.99" stroke="#3a3a3a" stroke-width="0.8"/>
<line x1="680.82" y1="334.21" x2="685.82" y2="334.21" stroke="#3a3a3a" stroke-width="0.8"/>
<line x1="507.16" y1="380.39" x2="507.16" y2="395.09" stroke="#3aa83a" stroke-width="0.8"/>
<line x1="504.66" y1="380.39" x2="509.66" y2="380.39" stroke="#3aa83a" stroke-width="0.8"/>
<line x1="504.66" y1="395.09" x2="509.66" y2="395.09" stroke="#3aa83a" stroke-width="0.8"/>
<line x1="537.12" y1="330.05" x2="537.12" y2="333.23" stroke="#3aa83a" stroke-width="0.8"/>
<line x1="534.62" y1="330.05" x2="539.62" y2="330.05" stroke="#3aa83a" stroke-width="0.8"/>
<line x1="534.62" y1="333.23" x2="539.62" y2="333.23" stroke="#3aa83a" stroke-width="0.8"/>
<line x1="580.26" y1="317.06" x2="580.26" y2="319.02" stroke="#3aa83a" stroke-width="0.8"/>
<line x1="577.76" y1="317.06" x2="582.76" y2="317.06" stroke="#3aa83a" stroke-width="0.8"/>
<line x1="577.76" y1="319.02" x2="582.76" y2="319.02" stroke="#3aa83a" stroke-width="0.8"/>
<line x1="623.23" y1="314.86" x2="623.23" y2="320.74" stroke="#3aa83a" stroke-width="0.8"/>
<line x1="620.73" y1="314.86" x2="625.73" y2="314.86" stroke="#3aa83a" stroke-width="0.8"/>
<line x1="620.73" y1="320.74" x2="625.73" y2="320.74" stroke="#3aa83a" stroke-width="0.8"/>
<circle cx="537.12" cy="416.04" r="2.6" fill="#000"/>
<circle cx="580.26" cy="341.68" r="2.6" fill="#000"/>
<circle cx="640.18" cy="333.6" r="2.6" fill="#000"/>
<circle cx="683.32" cy="333.6" r="2.6" fill="#000"/>
<circle cx="477.2" cy="452.67" r="2.6" fill="#008000"/>
<circle cx="507.16" cy="387.75" r="2.6" fill="#008000"/>
<circle cx="537.12" cy="331.64" r="2.6" fill="#008000"/>
<circle cx="580.26" cy="318.04" r="2.6" fill="#008000"/>
<circle cx="623.23" cy="317.8" r="2.6" fill="#008000"/>
<path d="M517.5,376.5 L517.5,373.51 Q517.5,373.5 517.51,373.5 L547.99,373.5 Q548,373.5 548,373.51 L548,376.5" stroke="#666" stroke-width="1.2" fill="none"/>
<line x1="532.6" y1="373.5" x2="532.6" y2="369.9" stroke="#666" stroke-width="1.2"/>
<path d="M532.2,362.2 L532.2,359.4 M532.2,362.2 L534.86,361.33 M532.2,362.2 L533.85,364.47 M532.2,362.2 L530.55,364.47 M532.2,362.2 L529.54,361.33 " stroke="#111" stroke-width="1.5" stroke-linecap="round" fill="none"/>
<text x="570.6" y="380" font-size="7.8" text-anchor="start" fill="#202020" stroke="#202020" stroke-width="0.06" textLength="34.8" lengthAdjust="spacingAndGlyphs">p = 0.0037,</text>
<text x="553.8" y="388.1" font-size="7.7" text-anchor="start" fill="#202020" stroke="#202020" stroke-width="0.06" textLength="68" lengthAdjust="spacingAndGlyphs">non-linear regression</text>
<circle cx="613.3" cy="430" r="2.5" fill="#008000"/>
<circle cx="613.3" cy="442.6" r="2.5" fill="#000"/>
<text x="625.4" y="431.8" font-size="11" text-anchor="start" fill="#222" textLength="71.6" lengthAdjust="spacingAndGlyphs">ClC-1 inhibitor</text>
<text x="625.4" y="444.7" font-size="11" text-anchor="start" fill="#222" textLength="40.5" lengthAdjust="spacingAndGlyphs">Placebo</text>
</svg>
</div>
</body></html>
